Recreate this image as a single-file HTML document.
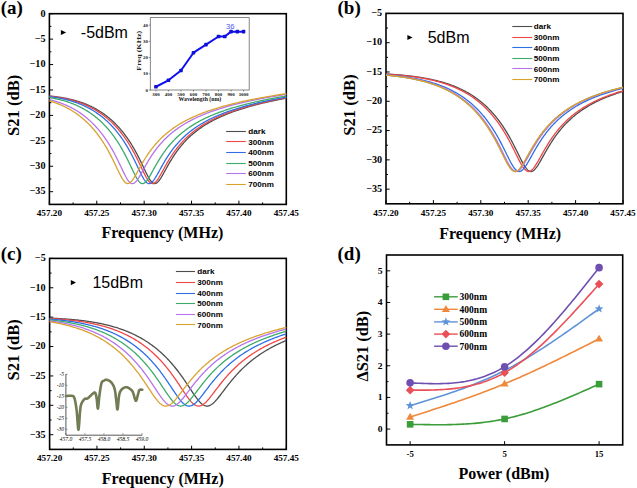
<!DOCTYPE html>
<html><head><meta charset="utf-8"><style>html,body{margin:0;padding:0;background:#fff}svg{display:block}</style></head>
<body><svg width="637" height="488" viewBox="0 0 637 488">
<rect width="637" height="488" fill="#fff"/>
<line x1="49.40" y1="204.40" x2="49.40" y2="200.70" stroke="#000" stroke-width="1"/>
<line x1="96.78" y1="204.40" x2="96.78" y2="200.70" stroke="#000" stroke-width="1"/>
<line x1="144.16" y1="204.40" x2="144.16" y2="200.70" stroke="#000" stroke-width="1"/>
<line x1="191.54" y1="204.40" x2="191.54" y2="200.70" stroke="#000" stroke-width="1"/>
<line x1="238.92" y1="204.40" x2="238.92" y2="200.70" stroke="#000" stroke-width="1"/>
<line x1="286.30" y1="204.40" x2="286.30" y2="200.70" stroke="#000" stroke-width="1"/>
<line x1="73.09" y1="204.40" x2="73.09" y2="202.40" stroke="#000" stroke-width="1"/>
<line x1="120.47" y1="204.40" x2="120.47" y2="202.40" stroke="#000" stroke-width="1"/>
<line x1="167.85" y1="204.40" x2="167.85" y2="202.40" stroke="#000" stroke-width="1"/>
<line x1="215.23" y1="204.40" x2="215.23" y2="202.40" stroke="#000" stroke-width="1"/>
<line x1="262.61" y1="204.40" x2="262.61" y2="202.40" stroke="#000" stroke-width="1"/>
<line x1="49.40" y1="13.70" x2="53.10" y2="13.70" stroke="#000" stroke-width="1"/>
<line x1="49.40" y1="39.13" x2="53.10" y2="39.13" stroke="#000" stroke-width="1"/>
<line x1="49.40" y1="64.55" x2="53.10" y2="64.55" stroke="#000" stroke-width="1"/>
<line x1="49.40" y1="89.98" x2="53.10" y2="89.98" stroke="#000" stroke-width="1"/>
<line x1="49.40" y1="115.41" x2="53.10" y2="115.41" stroke="#000" stroke-width="1"/>
<line x1="49.40" y1="140.83" x2="53.10" y2="140.83" stroke="#000" stroke-width="1"/>
<line x1="49.40" y1="166.26" x2="53.10" y2="166.26" stroke="#000" stroke-width="1"/>
<line x1="49.40" y1="191.69" x2="53.10" y2="191.69" stroke="#000" stroke-width="1"/>
<line x1="49.40" y1="26.41" x2="51.40" y2="26.41" stroke="#000" stroke-width="1"/>
<line x1="49.40" y1="51.84" x2="51.40" y2="51.84" stroke="#000" stroke-width="1"/>
<line x1="49.40" y1="77.27" x2="51.40" y2="77.27" stroke="#000" stroke-width="1"/>
<line x1="49.40" y1="102.69" x2="51.40" y2="102.69" stroke="#000" stroke-width="1"/>
<line x1="49.40" y1="128.12" x2="51.40" y2="128.12" stroke="#000" stroke-width="1"/>
<line x1="49.40" y1="153.55" x2="51.40" y2="153.55" stroke="#000" stroke-width="1"/>
<line x1="49.40" y1="178.97" x2="51.40" y2="178.97" stroke="#000" stroke-width="1"/>
<rect x="49.40" y="13.70" width="236.90" height="190.70" fill="none" stroke="#000" stroke-width="1.6"/>
<text x="49.40" y="216.20" font-family='"Liberation Serif", serif' font-size="9.2" font-weight="bold" text-anchor="middle" fill="#000" >457.20</text>
<text x="96.78" y="216.20" font-family='"Liberation Serif", serif' font-size="9.2" font-weight="bold" text-anchor="middle" fill="#000" >457.25</text>
<text x="144.16" y="216.20" font-family='"Liberation Serif", serif' font-size="9.2" font-weight="bold" text-anchor="middle" fill="#000" >457.30</text>
<text x="191.54" y="216.20" font-family='"Liberation Serif", serif' font-size="9.2" font-weight="bold" text-anchor="middle" fill="#000" >457.35</text>
<text x="238.92" y="216.20" font-family='"Liberation Serif", serif' font-size="9.2" font-weight="bold" text-anchor="middle" fill="#000" >457.40</text>
<text x="286.30" y="216.20" font-family='"Liberation Serif", serif' font-size="9.2" font-weight="bold" text-anchor="middle" fill="#000" >457.45</text>
<text transform="translate(45.50,16.50) scale(1.08,1)" font-family='"Liberation Serif", serif' font-size="9.4" font-weight="bold" text-anchor="end">0</text>
<text transform="translate(45.50,41.93) scale(1.08,1)" font-family='"Liberation Serif", serif' font-size="9.4" font-weight="bold" text-anchor="end">&#8722;5</text>
<text transform="translate(45.50,67.35) scale(1.08,1)" font-family='"Liberation Serif", serif' font-size="9.4" font-weight="bold" text-anchor="end">&#8722;10</text>
<text transform="translate(45.50,92.78) scale(1.08,1)" font-family='"Liberation Serif", serif' font-size="9.4" font-weight="bold" text-anchor="end">&#8722;15</text>
<text transform="translate(45.50,118.21) scale(1.08,1)" font-family='"Liberation Serif", serif' font-size="9.4" font-weight="bold" text-anchor="end">&#8722;20</text>
<text transform="translate(45.50,143.63) scale(1.08,1)" font-family='"Liberation Serif", serif' font-size="9.4" font-weight="bold" text-anchor="end">&#8722;25</text>
<text transform="translate(45.50,169.06) scale(1.08,1)" font-family='"Liberation Serif", serif' font-size="9.4" font-weight="bold" text-anchor="end">&#8722;30</text>
<text transform="translate(45.50,194.49) scale(1.08,1)" font-family='"Liberation Serif", serif' font-size="9.4" font-weight="bold" text-anchor="end">&#8722;35</text>
<path d="M49.40 96.01 L50.19 96.08 L50.98 96.16 L51.78 96.24 L52.57 96.33 L53.36 96.42 L54.15 96.51 L54.95 96.60 L55.74 96.70 L56.53 96.81 L57.32 96.91 L58.12 97.02 L58.91 97.14 L59.70 97.25 L60.49 97.38 L61.28 97.50 L62.08 97.63 L62.87 97.77 L63.66 97.91 L64.45 98.05 L65.25 98.20 L66.04 98.36 L66.83 98.51 L67.62 98.68 L68.42 98.85 L69.21 99.02 L70.00 99.20 L70.79 99.39 L71.58 99.58 L72.38 99.77 L73.17 99.98 L73.96 100.19 L74.75 100.40 L75.55 100.62 L76.34 100.85 L77.13 101.08 L77.92 101.32 L78.72 101.57 L79.51 101.83 L80.30 102.09 L81.09 102.36 L81.88 102.64 L82.68 102.92 L83.47 103.21 L84.26 103.51 L85.05 103.82 L85.85 104.14 L86.64 104.46 L87.43 104.79 L88.22 105.14 L89.02 105.49 L89.81 105.85 L90.60 106.22 L91.39 106.60 L92.18 106.99 L92.98 107.39 L93.77 107.79 L94.56 108.21 L95.35 108.64 L96.15 109.08 L96.94 109.54 L97.73 110.00 L98.52 110.47 L99.32 110.96 L100.11 111.46 L100.90 111.97 L101.69 112.49 L102.48 113.03 L103.28 113.57 L104.07 114.13 L104.86 114.71 L105.65 115.30 L106.45 115.90 L107.24 116.52 L108.03 117.15 L108.82 117.80 L109.62 118.46 L110.41 119.14 L111.20 119.83 L111.99 120.54 L112.78 121.27 L113.58 122.01 L114.37 122.77 L115.16 123.55 L115.95 124.35 L116.75 125.17 L117.54 126.00 L118.33 126.86 L119.12 127.74 L119.92 128.63 L120.71 129.55 L121.50 130.49 L122.29 131.45 L123.08 132.44 L123.88 133.45 L124.67 134.48 L125.46 135.54 L126.25 136.62 L127.05 137.73 L127.84 138.87 L128.63 140.04 L129.42 141.23 L130.22 142.45 L131.01 143.70 L131.80 144.98 L132.59 146.29 L133.38 147.63 L134.18 149.01 L134.97 150.41 L135.76 151.85 L136.55 153.32 L137.35 154.81 L138.14 156.34 L138.93 157.90 L139.72 159.49 L140.52 161.10 L141.31 162.74 L142.10 164.39 L142.89 166.05 L143.68 167.72 L144.48 169.39 L145.27 171.05 L146.06 172.68 L146.85 174.27 L147.65 175.81 L148.44 177.27 L149.23 178.63 L150.02 179.87 L150.82 180.97 L151.61 181.90 L152.40 182.65 L153.19 183.19 L153.98 183.51 L154.78 183.61 L155.57 183.48 L156.36 183.14 L157.15 182.60 L157.95 181.87 L158.74 180.98 L159.53 179.95 L160.32 178.80 L161.12 177.56 L161.91 176.25 L162.70 174.89 L163.49 173.49 L164.28 172.06 L165.08 170.62 L165.87 169.19 L166.66 167.75 L167.45 166.33 L168.25 164.93 L169.04 163.55 L169.83 162.19 L170.62 160.86 L171.42 159.55 L172.21 158.27 L173.00 157.03 L173.79 155.81 L174.58 154.62 L175.38 153.46 L176.17 152.33 L176.96 151.22 L177.75 150.15 L178.55 149.10 L179.34 148.07 L180.13 147.07 L180.92 146.10 L181.72 145.15 L182.51 144.23 L183.30 143.32 L184.09 142.44 L184.88 141.58 L185.68 140.74 L186.47 139.92 L187.26 139.12 L188.05 138.34 L188.85 137.57 L189.64 136.83 L190.43 136.10 L191.22 135.38 L192.02 134.68 L192.81 134.00 L193.60 133.33 L194.39 132.68 L195.18 132.04 L195.98 131.41 L196.77 130.79 L197.56 130.19 L198.35 129.60 L199.15 129.03 L199.94 128.46 L200.73 127.90 L201.52 127.36 L202.32 126.83 L203.11 126.30 L203.90 125.79 L204.69 125.28 L205.48 124.79 L206.28 124.30 L207.07 123.82 L207.86 123.35 L208.65 122.89 L209.45 122.44 L210.24 121.99 L211.03 121.56 L211.82 121.13 L212.62 120.70 L213.41 120.29 L214.20 119.88 L214.99 119.48 L215.78 119.08 L216.58 118.69 L217.37 118.31 L218.16 117.93 L218.95 117.56 L219.75 117.19 L220.54 116.83 L221.33 116.48 L222.12 116.13 L222.92 115.78 L223.71 115.44 L224.50 115.11 L225.29 114.78 L226.08 114.45 L226.88 114.13 L227.67 113.82 L228.46 113.51 L229.25 113.20 L230.05 112.89 L230.84 112.60 L231.63 112.30 L232.42 112.01 L233.22 111.72 L234.01 111.44 L234.80 111.16 L235.59 110.88 L236.38 110.61 L237.18 110.34 L237.97 110.07 L238.76 109.81 L239.55 109.55 L240.35 109.29 L241.14 109.04 L241.93 108.79 L242.72 108.54 L243.52 108.29 L244.31 108.05 L245.10 107.81 L245.89 107.58 L246.68 107.34 L247.48 107.11 L248.27 106.88 L249.06 106.66 L249.85 106.43 L250.65 106.21 L251.44 105.99 L252.23 105.77 L253.02 105.56 L253.82 105.35 L254.61 105.14 L255.40 104.93 L256.19 104.72 L256.98 104.52 L257.78 104.32 L258.57 104.12 L259.36 103.92 L260.15 103.72 L260.95 103.53 L261.74 103.34 L262.53 103.15 L263.32 102.96 L264.12 102.77 L264.91 102.59 L265.70 102.40 L266.49 102.22 L267.28 102.04 L268.08 101.86 L268.87 101.69 L269.66 101.51 L270.45 101.34 L271.25 101.16 L272.04 100.99 L272.83 100.82 L273.62 100.66 L274.42 100.49 L275.21 100.32 L276.00 100.16 L276.79 100.00 L277.58 99.84 L278.38 99.68 L279.17 99.52 L279.96 99.36 L280.75 99.20 L281.55 99.05 L282.34 98.89 L283.13 98.74 L283.92 98.59 L284.72 98.44 L285.51 98.29 L286.30 98.14" fill="none" stroke="#4d4d4d" stroke-width="1.3" stroke-linejoin="round"/>
<path d="M49.40 96.23 L50.19 96.31 L50.98 96.40 L51.78 96.49 L52.57 96.59 L53.36 96.68 L54.15 96.79 L54.95 96.89 L55.74 97.00 L56.53 97.11 L57.32 97.23 L58.12 97.35 L58.91 97.48 L59.70 97.61 L60.49 97.74 L61.28 97.88 L62.08 98.02 L62.87 98.17 L63.66 98.33 L64.45 98.48 L65.25 98.65 L66.04 98.81 L66.83 98.99 L67.62 99.17 L68.42 99.35 L69.21 99.54 L70.00 99.74 L70.79 99.94 L71.58 100.15 L72.38 100.36 L73.17 100.58 L73.96 100.81 L74.75 101.04 L75.55 101.28 L76.34 101.52 L77.13 101.78 L77.92 102.04 L78.72 102.31 L79.51 102.58 L80.30 102.86 L81.09 103.15 L81.88 103.45 L82.68 103.76 L83.47 104.07 L84.26 104.40 L85.05 104.73 L85.85 105.07 L86.64 105.42 L87.43 105.78 L88.22 106.15 L89.02 106.52 L89.81 106.91 L90.60 107.31 L91.39 107.71 L92.18 108.13 L92.98 108.56 L93.77 109.00 L94.56 109.45 L95.35 109.91 L96.15 110.38 L96.94 110.86 L97.73 111.36 L98.52 111.87 L99.32 112.39 L100.11 112.92 L100.90 113.47 L101.69 114.02 L102.48 114.60 L103.28 115.18 L104.07 115.78 L104.86 116.40 L105.65 117.03 L106.45 117.67 L107.24 118.33 L108.03 119.00 L108.82 119.69 L109.62 120.40 L110.41 121.12 L111.20 121.87 L111.99 122.62 L112.78 123.40 L113.58 124.19 L114.37 125.01 L115.16 125.84 L115.95 126.69 L116.75 127.56 L117.54 128.46 L118.33 129.37 L119.12 130.31 L119.92 131.27 L120.71 132.25 L121.50 133.25 L122.29 134.28 L123.08 135.33 L123.88 136.41 L124.67 137.52 L125.46 138.65 L126.25 139.81 L127.05 141.00 L127.84 142.21 L128.63 143.46 L129.42 144.73 L130.22 146.03 L131.01 147.37 L131.80 148.74 L132.59 150.14 L133.38 151.57 L134.18 153.03 L134.97 154.52 L135.76 156.05 L136.55 157.60 L137.35 159.18 L138.14 160.79 L138.93 162.42 L139.72 164.07 L140.52 165.73 L141.31 167.40 L142.10 169.07 L142.89 170.73 L143.68 172.37 L144.48 173.97 L145.27 175.52 L146.06 176.99 L146.85 178.38 L147.65 179.64 L148.44 180.77 L149.23 181.74 L150.02 182.52 L150.82 183.10 L151.61 183.46 L152.40 183.61 L153.19 183.52 L153.98 183.22 L154.78 182.72 L155.57 182.02 L156.36 181.16 L157.15 180.16 L157.95 179.03 L158.74 177.81 L159.53 176.51 L160.32 175.16 L161.12 173.76 L161.91 172.34 L162.70 170.90 L163.49 169.46 L164.28 168.03 L165.08 166.61 L165.87 165.20 L166.66 163.81 L167.45 162.45 L168.25 161.11 L169.04 159.80 L169.83 158.52 L170.62 157.27 L171.42 156.04 L172.21 154.85 L173.00 153.68 L173.79 152.54 L174.58 151.43 L175.38 150.35 L176.17 149.30 L176.96 148.27 L177.75 147.27 L178.55 146.29 L179.34 145.33 L180.13 144.40 L180.92 143.50 L181.72 142.61 L182.51 141.75 L183.30 140.90 L184.09 140.08 L184.88 139.27 L185.68 138.49 L186.47 137.72 L187.26 136.97 L188.05 136.24 L188.85 135.52 L189.64 134.82 L190.43 134.13 L191.22 133.46 L192.02 132.80 L192.81 132.16 L193.60 131.53 L194.39 130.91 L195.18 130.31 L195.98 129.72 L196.77 129.14 L197.56 128.57 L198.35 128.01 L199.15 127.46 L199.94 126.93 L200.73 126.40 L201.52 125.89 L202.32 125.38 L203.11 124.88 L203.90 124.39 L204.69 123.91 L205.48 123.44 L206.28 122.98 L207.07 122.53 L207.86 122.08 L208.65 121.64 L209.45 121.21 L210.24 120.79 L211.03 120.37 L211.82 119.96 L212.62 119.55 L213.41 119.16 L214.20 118.77 L214.99 118.38 L215.78 118.00 L216.58 117.63 L217.37 117.26 L218.16 116.90 L218.95 116.55 L219.75 116.19 L220.54 115.85 L221.33 115.51 L222.12 115.17 L222.92 114.84 L223.71 114.52 L224.50 114.20 L225.29 113.88 L226.08 113.57 L226.88 113.26 L227.67 112.95 L228.46 112.65 L229.25 112.36 L230.05 112.07 L230.84 111.78 L231.63 111.49 L232.42 111.21 L233.22 110.93 L234.01 110.66 L234.80 110.39 L235.59 110.12 L236.38 109.86 L237.18 109.60 L237.97 109.34 L238.76 109.09 L239.55 108.84 L240.35 108.59 L241.14 108.34 L241.93 108.10 L242.72 107.86 L243.52 107.62 L244.31 107.39 L245.10 107.16 L245.89 106.93 L246.68 106.70 L247.48 106.48 L248.27 106.25 L249.06 106.03 L249.85 105.82 L250.65 105.60 L251.44 105.39 L252.23 105.18 L253.02 104.97 L253.82 104.76 L254.61 104.56 L255.40 104.36 L256.19 104.16 L256.98 103.96 L257.78 103.76 L258.57 103.57 L259.36 103.38 L260.15 103.18 L260.95 103.00 L261.74 102.81 L262.53 102.62 L263.32 102.44 L264.12 102.26 L264.91 102.08 L265.70 101.90 L266.49 101.72 L267.28 101.54 L268.08 101.37 L268.87 101.20 L269.66 101.03 L270.45 100.86 L271.25 100.69 L272.04 100.52 L272.83 100.36 L273.62 100.19 L274.42 100.03 L275.21 99.87 L276.00 99.71 L276.79 99.55 L277.58 99.39 L278.38 99.23 L279.17 99.08 L279.96 98.92 L280.75 98.77 L281.55 98.62 L282.34 98.47 L283.13 98.32 L283.92 98.17 L284.72 98.02 L285.51 97.88 L286.30 97.73" fill="none" stroke="#f04646" stroke-width="1.3" stroke-linejoin="round"/>
<path d="M49.40 96.62 L50.19 96.71 L50.98 96.82 L51.78 96.92 L52.57 97.03 L53.36 97.15 L54.15 97.27 L54.95 97.39 L55.74 97.52 L56.53 97.65 L57.32 97.78 L58.12 97.92 L58.91 98.07 L59.70 98.22 L60.49 98.37 L61.28 98.53 L62.08 98.70 L62.87 98.87 L63.66 99.04 L64.45 99.22 L65.25 99.41 L66.04 99.60 L66.83 99.80 L67.62 100.00 L68.42 100.21 L69.21 100.43 L70.00 100.65 L70.79 100.88 L71.58 101.11 L72.38 101.35 L73.17 101.60 L73.96 101.86 L74.75 102.12 L75.55 102.39 L76.34 102.67 L77.13 102.95 L77.92 103.25 L78.72 103.55 L79.51 103.86 L80.30 104.17 L81.09 104.50 L81.88 104.83 L82.68 105.18 L83.47 105.53 L84.26 105.89 L85.05 106.26 L85.85 106.64 L86.64 107.03 L87.43 107.43 L88.22 107.84 L89.02 108.26 L89.81 108.69 L90.60 109.14 L91.39 109.59 L92.18 110.05 L92.98 110.53 L93.77 111.02 L94.56 111.52 L95.35 112.03 L96.15 112.55 L96.94 113.09 L97.73 113.64 L98.52 114.20 L99.32 114.78 L100.11 115.37 L100.90 115.97 L101.69 116.59 L102.48 117.22 L103.28 117.87 L104.07 118.54 L104.86 119.22 L105.65 119.91 L106.45 120.62 L107.24 121.35 L108.03 122.10 L108.82 122.86 L109.62 123.64 L110.41 124.44 L111.20 125.26 L111.99 126.10 L112.78 126.96 L113.58 127.84 L114.37 128.74 L115.16 129.66 L115.95 130.60 L116.75 131.57 L117.54 132.55 L118.33 133.57 L119.12 134.60 L119.92 135.66 L120.71 136.75 L121.50 137.86 L122.29 139.00 L123.08 140.17 L123.88 141.37 L124.67 142.59 L125.46 143.85 L126.25 145.13 L127.05 146.44 L127.84 147.79 L128.63 149.17 L129.42 150.57 L130.22 152.01 L131.01 153.49 L131.80 154.99 L132.59 156.52 L133.38 158.08 L134.18 159.67 L134.97 161.29 L135.76 162.93 L136.55 164.58 L137.35 166.25 L138.14 167.92 L138.93 169.58 L139.72 171.24 L140.52 172.87 L141.31 174.45 L142.10 175.98 L142.89 177.43 L143.68 178.78 L144.48 180.01 L145.27 181.09 L146.06 182.00 L146.85 182.72 L147.65 183.24 L148.44 183.53 L149.23 183.60 L150.02 183.45 L150.82 183.09 L151.61 182.52 L152.40 181.77 L153.19 180.87 L153.98 179.82 L154.78 178.66 L155.57 177.42 L156.36 176.10 L157.15 174.73 L157.95 173.32 L158.74 171.90 L159.53 170.46 L160.32 169.02 L161.12 167.59 L161.91 166.17 L162.70 164.77 L163.49 163.39 L164.28 162.03 L165.08 160.70 L165.87 159.40 L166.66 158.13 L167.45 156.89 L168.25 155.67 L169.04 154.48 L169.83 153.33 L170.62 152.20 L171.42 151.10 L172.21 150.02 L173.00 148.98 L173.79 147.96 L174.58 146.96 L175.38 145.99 L176.17 145.04 L176.96 144.12 L177.75 143.22 L178.55 142.34 L179.34 141.48 L180.13 140.65 L180.92 139.83 L181.72 139.03 L182.51 138.25 L183.30 137.49 L184.09 136.74 L184.88 136.01 L185.68 135.30 L186.47 134.60 L187.26 133.92 L188.05 133.25 L188.85 132.60 L189.64 131.96 L190.43 131.34 L191.22 130.72 L192.02 130.12 L192.81 129.54 L193.60 128.96 L194.39 128.39 L195.18 127.84 L195.98 127.30 L196.77 126.76 L197.56 126.24 L198.35 125.73 L199.15 125.22 L199.94 124.73 L200.73 124.24 L201.52 123.77 L202.32 123.30 L203.11 122.84 L203.90 122.39 L204.69 121.94 L205.48 121.51 L206.28 121.08 L207.07 120.66 L207.86 120.24 L208.65 119.83 L209.45 119.43 L210.24 119.04 L211.03 118.65 L211.82 118.26 L212.62 117.89 L213.41 117.52 L214.20 117.15 L214.99 116.79 L215.78 116.44 L216.58 116.09 L217.37 115.74 L218.16 115.40 L218.95 115.07 L219.75 114.74 L220.54 114.42 L221.33 114.10 L222.12 113.78 L222.92 113.47 L223.71 113.16 L224.50 112.86 L225.29 112.56 L226.08 112.27 L226.88 111.98 L227.67 111.69 L228.46 111.41 L229.25 111.13 L230.05 110.85 L230.84 110.58 L231.63 110.31 L232.42 110.04 L233.22 109.78 L234.01 109.52 L234.80 109.26 L235.59 109.01 L236.38 108.76 L237.18 108.51 L237.97 108.27 L238.76 108.02 L239.55 107.79 L240.35 107.55 L241.14 107.32 L241.93 107.08 L242.72 106.86 L243.52 106.63 L244.31 106.41 L245.10 106.19 L245.89 105.97 L246.68 105.75 L247.48 105.54 L248.27 105.32 L249.06 105.11 L249.85 104.91 L250.65 104.70 L251.44 104.50 L252.23 104.30 L253.02 104.10 L253.82 103.90 L254.61 103.70 L255.40 103.51 L256.19 103.32 L256.98 103.13 L257.78 102.94 L258.57 102.75 L259.36 102.57 L260.15 102.38 L260.95 102.20 L261.74 102.02 L262.53 101.84 L263.32 101.67 L264.12 101.49 L264.91 101.32 L265.70 101.14 L266.49 100.97 L267.28 100.80 L268.08 100.64 L268.87 100.47 L269.66 100.31 L270.45 100.14 L271.25 99.98 L272.04 99.82 L272.83 99.66 L273.62 99.50 L274.42 99.34 L275.21 99.19 L276.00 99.03 L276.79 98.88 L277.58 98.72 L278.38 98.57 L279.17 98.42 L279.96 98.27 L280.75 98.13 L281.55 97.98 L282.34 97.83 L283.13 97.69 L283.92 97.54 L284.72 97.40 L285.51 97.26 L286.30 97.12" fill="none" stroke="#2f6fe6" stroke-width="1.3" stroke-linejoin="round"/>
<path d="M49.40 97.55 L50.19 97.69 L50.98 97.82 L51.78 97.96 L52.57 98.11 L53.36 98.26 L54.15 98.42 L54.95 98.58 L55.74 98.74 L56.53 98.92 L57.32 99.09 L58.12 99.27 L58.91 99.46 L59.70 99.66 L60.49 99.85 L61.28 100.06 L62.08 100.27 L62.87 100.49 L63.66 100.71 L64.45 100.94 L65.25 101.18 L66.04 101.42 L66.83 101.67 L67.62 101.93 L68.42 102.20 L69.21 102.47 L70.00 102.75 L70.79 103.03 L71.58 103.33 L72.38 103.63 L73.17 103.94 L73.96 104.26 L74.75 104.59 L75.55 104.93 L76.34 105.28 L77.13 105.63 L77.92 105.99 L78.72 106.37 L79.51 106.75 L80.30 107.14 L81.09 107.55 L81.88 107.96 L82.68 108.38 L83.47 108.82 L84.26 109.26 L85.05 109.72 L85.85 110.19 L86.64 110.67 L87.43 111.16 L88.22 111.66 L89.02 112.17 L89.81 112.70 L90.60 113.24 L91.39 113.79 L92.18 114.36 L92.98 114.94 L93.77 115.54 L94.56 116.14 L95.35 116.77 L96.15 117.40 L96.94 118.06 L97.73 118.73 L98.52 119.41 L99.32 120.11 L100.11 120.83 L100.90 121.56 L101.69 122.31 L102.48 123.08 L103.28 123.87 L104.07 124.67 L104.86 125.50 L105.65 126.34 L106.45 127.21 L107.24 128.09 L108.03 129.00 L108.82 129.92 L109.62 130.87 L110.41 131.84 L111.20 132.84 L111.99 133.86 L112.78 134.90 L113.58 135.97 L114.37 137.06 L115.16 138.18 L115.95 139.33 L116.75 140.51 L117.54 141.71 L118.33 142.94 L119.12 144.21 L119.92 145.50 L120.71 146.82 L121.50 148.18 L122.29 149.56 L123.08 150.98 L123.88 152.43 L124.67 153.91 L125.46 155.42 L126.25 156.96 L127.05 158.53 L127.84 160.13 L128.63 161.75 L129.42 163.39 L130.22 165.05 L131.01 166.72 L131.80 168.39 L132.59 170.05 L133.38 171.70 L134.18 173.32 L134.97 174.89 L135.76 176.40 L136.55 177.82 L137.35 179.14 L138.14 180.33 L138.93 181.36 L139.72 182.22 L140.52 182.89 L141.31 183.34 L142.10 183.57 L142.89 183.58 L143.68 183.37 L144.48 182.95 L145.27 182.33 L146.06 181.53 L146.85 180.58 L147.65 179.51 L148.44 178.32 L149.23 177.05 L150.02 175.72 L150.82 174.33 L151.61 172.92 L152.40 171.49 L153.19 170.05 L153.98 168.61 L154.78 167.19 L155.57 165.77 L156.36 164.38 L157.15 163.00 L157.95 161.66 L158.74 160.33 L159.53 159.04 L160.32 157.78 L161.12 156.54 L161.91 155.33 L162.70 154.15 L163.49 153.00 L164.28 151.88 L165.08 150.79 L165.87 149.73 L166.66 148.69 L167.45 147.67 L168.25 146.68 L169.04 145.72 L169.83 144.78 L170.62 143.86 L171.42 142.97 L172.21 142.10 L173.00 141.24 L173.79 140.41 L174.58 139.60 L175.38 138.81 L176.17 138.03 L176.96 137.27 L177.75 136.53 L178.55 135.81 L179.34 135.10 L180.13 134.41 L180.92 133.73 L181.72 133.07 L182.51 132.42 L183.30 131.79 L184.09 131.16 L184.88 130.55 L185.68 129.96 L186.47 129.37 L187.26 128.80 L188.05 128.24 L188.85 127.69 L189.64 127.15 L190.43 126.62 L191.22 126.10 L192.02 125.59 L192.81 125.08 L193.60 124.59 L194.39 124.11 L195.18 123.64 L195.98 123.17 L196.77 122.71 L197.56 122.26 L198.35 121.82 L199.15 121.39 L199.94 120.96 L200.73 120.54 L201.52 120.12 L202.32 119.72 L203.11 119.32 L203.90 118.93 L204.69 118.54 L205.48 118.16 L206.28 117.78 L207.07 117.41 L207.86 117.05 L208.65 116.69 L209.45 116.34 L210.24 115.99 L211.03 115.65 L211.82 115.31 L212.62 114.98 L213.41 114.65 L214.20 114.33 L214.99 114.01 L215.78 113.69 L216.58 113.38 L217.37 113.08 L218.16 112.78 L218.95 112.48 L219.75 112.18 L220.54 111.89 L221.33 111.61 L222.12 111.33 L222.92 111.05 L223.71 110.77 L224.50 110.50 L225.29 110.23 L226.08 109.97 L226.88 109.70 L227.67 109.45 L228.46 109.19 L229.25 108.94 L230.05 108.69 L230.84 108.44 L231.63 108.20 L232.42 107.96 L233.22 107.72 L234.01 107.48 L234.80 107.25 L235.59 107.02 L236.38 106.79 L237.18 106.57 L237.97 106.34 L238.76 106.12 L239.55 105.90 L240.35 105.69 L241.14 105.48 L241.93 105.26 L242.72 105.05 L243.52 104.85 L244.31 104.64 L245.10 104.44 L245.89 104.24 L246.68 104.04 L247.48 103.84 L248.27 103.65 L249.06 103.45 L249.85 103.26 L250.65 103.07 L251.44 102.88 L252.23 102.70 L253.02 102.51 L253.82 102.33 L254.61 102.15 L255.40 101.97 L256.19 101.79 L256.98 101.62 L257.78 101.44 L258.57 101.27 L259.36 101.10 L260.15 100.93 L260.95 100.76 L261.74 100.59 L262.53 100.42 L263.32 100.26 L264.12 100.10 L264.91 99.93 L265.70 99.77 L266.49 99.61 L267.28 99.45 L268.08 99.30 L268.87 99.14 L269.66 98.99 L270.45 98.83 L271.25 98.68 L272.04 98.53 L272.83 98.38 L273.62 98.23 L274.42 98.08 L275.21 97.94 L276.00 97.79 L276.79 97.65 L277.58 97.50 L278.38 97.36 L279.17 97.22 L279.96 97.08 L280.75 96.94 L281.55 96.80 L282.34 96.66 L283.13 96.52 L283.92 96.39 L284.72 96.25 L285.51 96.12 L286.30 95.99" fill="none" stroke="#3dab6b" stroke-width="1.3" stroke-linejoin="round"/>
<path d="M49.40 99.60 L50.19 99.80 L50.98 100.01 L51.78 100.21 L52.57 100.43 L53.36 100.65 L54.15 100.88 L54.95 101.12 L55.74 101.36 L56.53 101.61 L57.32 101.86 L58.12 102.13 L58.91 102.40 L59.70 102.67 L60.49 102.96 L61.28 103.25 L62.08 103.55 L62.87 103.86 L63.66 104.18 L64.45 104.51 L65.25 104.84 L66.04 105.18 L66.83 105.54 L67.62 105.90 L68.42 106.27 L69.21 106.65 L70.00 107.04 L70.79 107.44 L71.58 107.85 L72.38 108.27 L73.17 108.70 L73.96 109.14 L74.75 109.60 L75.55 110.06 L76.34 110.54 L77.13 111.03 L77.92 111.53 L78.72 112.04 L79.51 112.56 L80.30 113.10 L81.09 113.65 L81.88 114.21 L82.68 114.79 L83.47 115.38 L84.26 115.98 L85.05 116.60 L85.85 117.24 L86.64 117.88 L87.43 118.55 L88.22 119.23 L89.02 119.92 L89.81 120.64 L90.60 121.37 L91.39 122.11 L92.18 122.88 L92.98 123.66 L93.77 124.46 L94.56 125.28 L95.35 126.12 L96.15 126.98 L96.94 127.86 L97.73 128.76 L98.52 129.68 L99.32 130.62 L100.11 131.59 L100.90 132.57 L101.69 133.59 L102.48 134.62 L103.28 135.69 L104.07 136.77 L104.86 137.89 L105.65 139.03 L106.45 140.19 L107.24 141.39 L108.03 142.62 L108.82 143.87 L109.62 145.15 L110.41 146.47 L111.20 147.82 L111.99 149.19 L112.78 150.60 L113.58 152.04 L114.37 153.52 L115.16 155.02 L115.95 156.55 L116.75 158.12 L117.54 159.71 L118.33 161.32 L119.12 162.96 L119.92 164.61 L120.71 166.28 L121.50 167.95 L122.29 169.62 L123.08 171.27 L123.88 172.90 L124.67 174.48 L125.46 176.01 L126.25 177.46 L127.05 178.81 L127.84 180.03 L128.63 181.11 L129.42 182.02 L130.22 182.73 L131.01 183.24 L131.80 183.54 L132.59 183.60 L133.38 183.45 L134.18 183.08 L134.97 182.51 L135.76 181.76 L136.55 180.85 L137.35 179.80 L138.14 178.64 L138.93 177.39 L139.72 176.07 L140.52 174.70 L141.31 173.30 L142.10 171.87 L142.89 170.43 L143.68 168.99 L144.48 167.56 L145.27 166.14 L146.06 164.74 L146.85 163.36 L147.65 162.01 L148.44 160.68 L149.23 159.38 L150.02 158.10 L150.82 156.86 L151.61 155.65 L152.40 154.46 L153.19 153.30 L153.98 152.18 L154.78 151.08 L155.57 150.00 L156.36 148.96 L157.15 147.94 L157.95 146.94 L158.74 145.97 L159.53 145.03 L160.32 144.10 L161.12 143.20 L161.91 142.32 L162.70 141.47 L163.49 140.63 L164.28 139.81 L165.08 139.01 L165.87 138.23 L166.66 137.47 L167.45 136.73 L168.25 136.00 L169.04 135.29 L169.83 134.59 L170.62 133.91 L171.42 133.24 L172.21 132.59 L173.00 131.95 L173.79 131.33 L174.58 130.71 L175.38 130.11 L176.17 129.52 L176.96 128.95 L177.75 128.38 L178.55 127.83 L179.34 127.29 L180.13 126.75 L180.92 126.23 L181.72 125.72 L182.51 125.21 L183.30 124.72 L184.09 124.24 L184.88 123.76 L185.68 123.29 L186.47 122.83 L187.26 122.38 L188.05 121.94 L188.85 121.50 L189.64 121.07 L190.43 120.65 L191.22 120.23 L192.02 119.82 L192.81 119.42 L193.60 119.03 L194.39 118.64 L195.18 118.26 L195.98 117.88 L196.77 117.51 L197.56 117.14 L198.35 116.78 L199.15 116.43 L199.94 116.08 L200.73 115.74 L201.52 115.40 L202.32 115.06 L203.11 114.74 L203.90 114.41 L204.69 114.09 L205.48 113.78 L206.28 113.46 L207.07 113.16 L207.86 112.85 L208.65 112.56 L209.45 112.26 L210.24 111.97 L211.03 111.68 L211.82 111.40 L212.62 111.12 L213.41 110.84 L214.20 110.57 L214.99 110.30 L215.78 110.04 L216.58 109.77 L217.37 109.51 L218.16 109.26 L218.95 109.00 L219.75 108.75 L220.54 108.51 L221.33 108.26 L222.12 108.02 L222.92 107.78 L223.71 107.54 L224.50 107.31 L225.29 107.08 L226.08 106.85 L226.88 106.63 L227.67 106.40 L228.46 106.18 L229.25 105.96 L230.05 105.75 L230.84 105.53 L231.63 105.32 L232.42 105.11 L233.22 104.90 L234.01 104.70 L234.80 104.49 L235.59 104.29 L236.38 104.09 L237.18 103.89 L237.97 103.70 L238.76 103.50 L239.55 103.31 L240.35 103.12 L241.14 102.93 L241.93 102.75 L242.72 102.56 L243.52 102.38 L244.31 102.20 L245.10 102.02 L245.89 101.84 L246.68 101.66 L247.48 101.49 L248.27 101.31 L249.06 101.14 L249.85 100.97 L250.65 100.80 L251.44 100.63 L252.23 100.47 L253.02 100.30 L253.82 100.14 L254.61 99.98 L255.40 99.81 L256.19 99.65 L256.98 99.50 L257.78 99.34 L258.57 99.18 L259.36 99.03 L260.15 98.87 L260.95 98.72 L261.74 98.57 L262.53 98.42 L263.32 98.27 L264.12 98.12 L264.91 97.98 L265.70 97.83 L266.49 97.68 L267.28 97.54 L268.08 97.40 L268.87 97.26 L269.66 97.11 L270.45 96.97 L271.25 96.84 L272.04 96.70 L272.83 96.56 L273.62 96.42 L274.42 96.29 L275.21 96.15 L276.00 96.02 L276.79 95.89 L277.58 95.76 L278.38 95.63 L279.17 95.50 L279.96 95.37 L280.75 95.24 L281.55 95.11 L282.34 94.98 L283.13 94.86 L283.92 94.73 L284.72 94.61 L285.51 94.48 L286.30 94.36" fill="none" stroke="#b474ec" stroke-width="1.3" stroke-linejoin="round"/>
<path d="M49.40 100.86 L50.19 101.09 L50.98 101.33 L51.78 101.58 L52.57 101.83 L53.36 102.10 L54.15 102.36 L54.95 102.64 L55.74 102.93 L56.53 103.22 L57.32 103.52 L58.12 103.83 L58.91 104.14 L59.70 104.47 L60.49 104.80 L61.28 105.14 L62.08 105.50 L62.87 105.86 L63.66 106.23 L64.45 106.61 L65.25 107.00 L66.04 107.39 L66.83 107.80 L67.62 108.22 L68.42 108.65 L69.21 109.09 L70.00 109.55 L70.79 110.01 L71.58 110.48 L72.38 110.97 L73.17 111.47 L73.96 111.98 L74.75 112.50 L75.55 113.04 L76.34 113.59 L77.13 114.15 L77.92 114.72 L78.72 115.31 L79.51 115.91 L80.30 116.53 L81.09 117.16 L81.88 117.81 L82.68 118.47 L83.47 119.15 L84.26 119.85 L85.05 120.56 L85.85 121.28 L86.64 122.03 L87.43 122.79 L88.22 123.57 L89.02 124.37 L89.81 125.19 L90.60 126.02 L91.39 126.88 L92.18 127.76 L92.98 128.65 L93.77 129.57 L94.56 130.51 L95.35 131.48 L96.15 132.46 L96.94 133.47 L97.73 134.51 L98.52 135.57 L99.32 136.65 L100.11 137.76 L100.90 138.90 L101.69 140.06 L102.48 141.26 L103.28 142.48 L104.07 143.73 L104.86 145.01 L105.65 146.32 L106.45 147.66 L107.24 149.04 L108.03 150.44 L108.82 151.88 L109.62 153.35 L110.41 154.85 L111.20 156.38 L111.99 157.94 L112.78 159.53 L113.58 161.14 L114.37 162.77 L115.16 164.43 L115.95 166.09 L116.75 167.76 L117.54 169.43 L118.33 171.09 L119.12 172.72 L119.92 174.31 L120.71 175.84 L121.50 177.30 L122.29 178.66 L123.08 179.90 L123.88 181.00 L124.67 181.92 L125.46 182.66 L126.25 183.20 L127.05 183.51 L127.84 183.61 L128.63 183.48 L129.42 183.13 L130.22 182.58 L131.01 181.85 L131.80 180.96 L132.59 179.92 L133.38 178.78 L134.18 177.54 L134.97 176.22 L135.76 174.86 L136.55 173.45 L137.35 172.03 L138.14 170.59 L138.93 169.15 L139.72 167.72 L140.52 166.30 L141.31 164.90 L142.10 163.52 L142.89 162.16 L143.68 160.83 L144.48 159.52 L145.27 158.25 L146.06 157.00 L146.85 155.78 L147.65 154.59 L148.44 153.43 L149.23 152.30 L150.02 151.20 L150.82 150.12 L151.61 149.07 L152.40 148.05 L153.19 147.05 L153.98 146.08 L154.78 145.13 L155.57 144.21 L156.36 143.30 L157.15 142.42 L157.95 141.56 L158.74 140.72 L159.53 139.90 L160.32 139.10 L161.12 138.32 L161.91 137.56 L162.70 136.81 L163.49 136.08 L164.28 135.37 L165.08 134.67 L165.87 133.98 L166.66 133.32 L167.45 132.66 L168.25 132.02 L169.04 131.39 L169.83 130.78 L170.62 130.18 L171.42 129.59 L172.21 129.01 L173.00 128.45 L173.79 127.89 L174.58 127.35 L175.38 126.81 L176.17 126.29 L176.96 125.78 L177.75 125.27 L178.55 124.78 L179.34 124.29 L180.13 123.81 L180.92 123.34 L181.72 122.88 L182.51 122.43 L183.30 121.98 L184.09 121.55 L184.88 121.12 L185.68 120.69 L186.47 120.28 L187.26 119.87 L188.05 119.47 L188.85 119.07 L189.64 118.68 L190.43 118.30 L191.22 117.92 L192.02 117.55 L192.81 117.18 L193.60 116.82 L194.39 116.47 L195.18 116.12 L195.98 115.78 L196.77 115.44 L197.56 115.10 L198.35 114.77 L199.15 114.45 L199.94 114.13 L200.73 113.81 L201.52 113.50 L202.32 113.19 L203.11 112.89 L203.90 112.59 L204.69 112.29 L205.48 112.00 L206.28 111.71 L207.07 111.43 L207.86 111.15 L208.65 110.87 L209.45 110.60 L210.24 110.33 L211.03 110.07 L211.82 109.80 L212.62 109.54 L213.41 109.29 L214.20 109.03 L214.99 108.78 L215.78 108.53 L216.58 108.29 L217.37 108.05 L218.16 107.81 L218.95 107.57 L219.75 107.34 L220.54 107.11 L221.33 106.88 L222.12 106.65 L222.92 106.43 L223.71 106.21 L224.50 105.99 L225.29 105.77 L226.08 105.56 L226.88 105.34 L227.67 105.13 L228.46 104.92 L229.25 104.72 L230.05 104.52 L230.84 104.31 L231.63 104.11 L232.42 103.92 L233.22 103.72 L234.01 103.53 L234.80 103.33 L235.59 103.14 L236.38 102.95 L237.18 102.77 L237.97 102.58 L238.76 102.40 L239.55 102.22 L240.35 102.04 L241.14 101.86 L241.93 101.68 L242.72 101.51 L243.52 101.33 L244.31 101.16 L245.10 100.99 L245.89 100.82 L246.68 100.65 L247.48 100.49 L248.27 100.32 L249.06 100.16 L249.85 99.99 L250.65 99.83 L251.44 99.67 L252.23 99.51 L253.02 99.36 L253.82 99.20 L254.61 99.04 L255.40 98.89 L256.19 98.74 L256.98 98.59 L257.78 98.44 L258.57 98.29 L259.36 98.14 L260.15 97.99 L260.95 97.85 L261.74 97.70 L262.53 97.56 L263.32 97.41 L264.12 97.27 L264.91 97.13 L265.70 96.99 L266.49 96.85 L267.28 96.71 L268.08 96.58 L268.87 96.44 L269.66 96.30 L270.45 96.17 L271.25 96.04 L272.04 95.90 L272.83 95.77 L273.62 95.64 L274.42 95.51 L275.21 95.38 L276.00 95.25 L276.79 95.12 L277.58 95.00 L278.38 94.87 L279.17 94.74 L279.96 94.62 L280.75 94.50 L281.55 94.37 L282.34 94.25 L283.13 94.13 L283.92 94.01 L284.72 93.89 L285.51 93.77 L286.30 93.65" fill="none" stroke="#d9a22e" stroke-width="1.3" stroke-linejoin="round"/>
<line x1="386.00" y1="203.80" x2="386.00" y2="200.10" stroke="#000" stroke-width="1"/>
<line x1="433.40" y1="203.80" x2="433.40" y2="200.10" stroke="#000" stroke-width="1"/>
<line x1="480.80" y1="203.80" x2="480.80" y2="200.10" stroke="#000" stroke-width="1"/>
<line x1="528.20" y1="203.80" x2="528.20" y2="200.10" stroke="#000" stroke-width="1"/>
<line x1="575.60" y1="203.80" x2="575.60" y2="200.10" stroke="#000" stroke-width="1"/>
<line x1="623.00" y1="203.80" x2="623.00" y2="200.10" stroke="#000" stroke-width="1"/>
<line x1="409.70" y1="203.80" x2="409.70" y2="201.80" stroke="#000" stroke-width="1"/>
<line x1="457.10" y1="203.80" x2="457.10" y2="201.80" stroke="#000" stroke-width="1"/>
<line x1="504.50" y1="203.80" x2="504.50" y2="201.80" stroke="#000" stroke-width="1"/>
<line x1="551.90" y1="203.80" x2="551.90" y2="201.80" stroke="#000" stroke-width="1"/>
<line x1="599.30" y1="203.80" x2="599.30" y2="201.80" stroke="#000" stroke-width="1"/>
<line x1="386.00" y1="13.40" x2="389.70" y2="13.40" stroke="#000" stroke-width="1"/>
<line x1="386.00" y1="42.69" x2="389.70" y2="42.69" stroke="#000" stroke-width="1"/>
<line x1="386.00" y1="71.98" x2="389.70" y2="71.98" stroke="#000" stroke-width="1"/>
<line x1="386.00" y1="101.28" x2="389.70" y2="101.28" stroke="#000" stroke-width="1"/>
<line x1="386.00" y1="130.57" x2="389.70" y2="130.57" stroke="#000" stroke-width="1"/>
<line x1="386.00" y1="159.86" x2="389.70" y2="159.86" stroke="#000" stroke-width="1"/>
<line x1="386.00" y1="189.15" x2="389.70" y2="189.15" stroke="#000" stroke-width="1"/>
<line x1="386.00" y1="28.05" x2="388.00" y2="28.05" stroke="#000" stroke-width="1"/>
<line x1="386.00" y1="57.34" x2="388.00" y2="57.34" stroke="#000" stroke-width="1"/>
<line x1="386.00" y1="86.63" x2="388.00" y2="86.63" stroke="#000" stroke-width="1"/>
<line x1="386.00" y1="115.92" x2="388.00" y2="115.92" stroke="#000" stroke-width="1"/>
<line x1="386.00" y1="145.22" x2="388.00" y2="145.22" stroke="#000" stroke-width="1"/>
<line x1="386.00" y1="174.51" x2="388.00" y2="174.51" stroke="#000" stroke-width="1"/>
<rect x="386.00" y="13.40" width="237.00" height="190.40" fill="none" stroke="#000" stroke-width="1.6"/>
<text x="386.00" y="215.60" font-family='"Liberation Serif", serif' font-size="9.2" font-weight="bold" text-anchor="middle" fill="#000" >457.20</text>
<text x="433.40" y="215.60" font-family='"Liberation Serif", serif' font-size="9.2" font-weight="bold" text-anchor="middle" fill="#000" >457.25</text>
<text x="480.80" y="215.60" font-family='"Liberation Serif", serif' font-size="9.2" font-weight="bold" text-anchor="middle" fill="#000" >457.30</text>
<text x="528.20" y="215.60" font-family='"Liberation Serif", serif' font-size="9.2" font-weight="bold" text-anchor="middle" fill="#000" >457.35</text>
<text x="575.60" y="215.60" font-family='"Liberation Serif", serif' font-size="9.2" font-weight="bold" text-anchor="middle" fill="#000" >457.40</text>
<text x="623.00" y="215.60" font-family='"Liberation Serif", serif' font-size="9.2" font-weight="bold" text-anchor="middle" fill="#000" >457.45</text>
<text transform="translate(382.10,16.20) scale(1.08,1)" font-family='"Liberation Serif", serif' font-size="9.4" font-weight="bold" text-anchor="end">&#8722;5</text>
<text transform="translate(382.10,45.49) scale(1.08,1)" font-family='"Liberation Serif", serif' font-size="9.4" font-weight="bold" text-anchor="end">&#8722;10</text>
<text transform="translate(382.10,74.78) scale(1.08,1)" font-family='"Liberation Serif", serif' font-size="9.4" font-weight="bold" text-anchor="end">&#8722;15</text>
<text transform="translate(382.10,104.08) scale(1.08,1)" font-family='"Liberation Serif", serif' font-size="9.4" font-weight="bold" text-anchor="end">&#8722;20</text>
<text transform="translate(382.10,133.37) scale(1.08,1)" font-family='"Liberation Serif", serif' font-size="9.4" font-weight="bold" text-anchor="end">&#8722;25</text>
<text transform="translate(382.10,162.66) scale(1.08,1)" font-family='"Liberation Serif", serif' font-size="9.4" font-weight="bold" text-anchor="end">&#8722;30</text>
<text transform="translate(382.10,191.95) scale(1.08,1)" font-family='"Liberation Serif", serif' font-size="9.4" font-weight="bold" text-anchor="end">&#8722;35</text>
<path d="M386.00 73.99 L386.79 74.03 L387.59 74.08 L388.38 74.13 L389.17 74.18 L389.96 74.23 L390.76 74.28 L391.55 74.33 L392.34 74.39 L393.13 74.44 L393.93 74.50 L394.72 74.56 L395.51 74.62 L396.30 74.68 L397.10 74.74 L397.89 74.81 L398.68 74.88 L399.47 74.94 L400.27 75.01 L401.06 75.08 L401.85 75.16 L402.65 75.23 L403.44 75.31 L404.23 75.39 L405.02 75.47 L405.82 75.55 L406.61 75.63 L407.40 75.72 L408.19 75.80 L408.99 75.89 L409.78 75.99 L410.57 76.08 L411.36 76.18 L412.16 76.27 L412.95 76.37 L413.74 76.48 L414.54 76.58 L415.33 76.69 L416.12 76.80 L416.91 76.91 L417.71 77.03 L418.50 77.14 L419.29 77.26 L420.08 77.39 L420.88 77.51 L421.67 77.64 L422.46 77.77 L423.25 77.91 L424.05 78.04 L424.84 78.18 L425.63 78.33 L426.42 78.47 L427.22 78.62 L428.01 78.77 L428.80 78.93 L429.60 79.09 L430.39 79.25 L431.18 79.42 L431.97 79.59 L432.77 79.77 L433.56 79.94 L434.35 80.13 L435.14 80.31 L435.94 80.50 L436.73 80.70 L437.52 80.90 L438.31 81.10 L439.11 81.31 L439.90 81.52 L440.69 81.73 L441.48 81.96 L442.28 82.18 L443.07 82.41 L443.86 82.65 L444.66 82.89 L445.45 83.13 L446.24 83.39 L447.03 83.64 L447.83 83.91 L448.62 84.17 L449.41 84.45 L450.20 84.73 L451.00 85.01 L451.79 85.31 L452.58 85.60 L453.37 85.91 L454.17 86.22 L454.96 86.54 L455.75 86.86 L456.55 87.20 L457.34 87.53 L458.13 87.88 L458.92 88.23 L459.72 88.60 L460.51 88.97 L461.30 89.34 L462.09 89.73 L462.89 90.12 L463.68 90.52 L464.47 90.93 L465.26 91.35 L466.06 91.78 L466.85 92.22 L467.64 92.67 L468.43 93.12 L469.23 93.59 L470.02 94.06 L470.81 94.55 L471.61 95.05 L472.40 95.56 L473.19 96.07 L473.98 96.60 L474.78 97.14 L475.57 97.70 L476.36 98.26 L477.15 98.84 L477.95 99.43 L478.74 100.03 L479.53 100.64 L480.32 101.27 L481.12 101.91 L481.91 102.57 L482.70 103.24 L483.49 103.92 L484.29 104.62 L485.08 105.34 L485.87 106.07 L486.67 106.81 L487.46 107.58 L488.25 108.36 L489.04 109.15 L489.84 109.96 L490.63 110.80 L491.42 111.65 L492.21 112.51 L493.01 113.40 L493.80 114.31 L494.59 115.24 L495.38 116.18 L496.18 117.15 L496.97 118.14 L497.76 119.16 L498.56 120.19 L499.35 121.25 L500.14 122.33 L500.93 123.44 L501.73 124.57 L502.52 125.73 L503.31 126.91 L504.10 128.12 L504.90 129.35 L505.69 130.61 L506.48 131.90 L507.27 133.21 L508.07 134.56 L508.86 135.93 L509.65 137.33 L510.44 138.75 L511.24 140.21 L512.03 141.68 L512.82 143.19 L513.62 144.72 L514.41 146.27 L515.20 147.84 L515.99 149.42 L516.79 151.02 L517.58 152.63 L518.37 154.24 L519.16 155.85 L519.96 157.45 L520.75 159.03 L521.54 160.58 L522.33 162.08 L523.13 163.53 L523.92 164.91 L524.71 166.20 L525.51 167.38 L526.30 168.45 L527.09 169.38 L527.88 170.16 L528.68 170.76 L529.47 171.19 L530.26 171.44 L531.05 171.50 L531.85 171.37 L532.64 171.05 L533.43 170.57 L534.22 169.92 L535.02 169.13 L535.81 168.20 L536.60 167.16 L537.39 166.03 L538.19 164.81 L538.98 163.53 L539.77 162.21 L540.57 160.84 L541.36 159.44 L542.15 158.03 L542.94 156.61 L543.74 155.19 L544.53 153.77 L545.32 152.37 L546.11 150.97 L546.91 149.60 L547.70 148.24 L548.49 146.90 L549.28 145.59 L550.08 144.30 L550.87 143.03 L551.66 141.79 L552.45 140.58 L553.25 139.39 L554.04 138.23 L554.83 137.09 L555.63 135.97 L556.42 134.89 L557.21 133.82 L558.00 132.78 L558.80 131.76 L559.59 130.77 L560.38 129.80 L561.17 128.85 L561.97 127.92 L562.76 127.01 L563.55 126.13 L564.34 125.26 L565.14 124.41 L565.93 123.58 L566.72 122.77 L567.52 121.97 L568.31 121.20 L569.10 120.44 L569.89 119.69 L570.69 118.96 L571.48 118.25 L572.27 117.55 L573.06 116.87 L573.86 116.20 L574.65 115.54 L575.44 114.90 L576.23 114.27 L577.03 113.65 L577.82 113.05 L578.61 112.46 L579.40 111.88 L580.20 111.30 L580.99 110.75 L581.78 110.20 L582.58 109.66 L583.37 109.13 L584.16 108.61 L584.95 108.10 L585.75 107.60 L586.54 107.11 L587.33 106.63 L588.12 106.16 L588.92 105.70 L589.71 105.24 L590.50 104.79 L591.29 104.35 L592.09 103.92 L592.88 103.50 L593.67 103.08 L594.46 102.67 L595.26 102.26 L596.05 101.87 L596.84 101.48 L597.64 101.09 L598.43 100.72 L599.22 100.34 L600.01 99.98 L600.81 99.62 L601.60 99.27 L602.39 98.92 L603.18 98.58 L603.98 98.24 L604.77 97.91 L605.56 97.58 L606.35 97.26 L607.15 96.94 L607.94 96.63 L608.73 96.32 L609.53 96.02 L610.32 95.72 L611.11 95.43 L611.90 95.14 L612.70 94.85 L613.49 94.57 L614.28 94.29 L615.07 94.02 L615.87 93.75 L616.66 93.48 L617.45 93.22 L618.24 92.96 L619.04 92.71 L619.83 92.46 L620.62 92.21 L621.41 91.97 L622.21 91.73 L623.00 91.49" fill="none" stroke="#4d4d4d" stroke-width="1.3" stroke-linejoin="round"/>
<path d="M386.00 74.12 L386.79 74.17 L387.59 74.22 L388.38 74.27 L389.17 74.33 L389.96 74.38 L390.76 74.44 L391.55 74.49 L392.34 74.55 L393.13 74.61 L393.93 74.67 L394.72 74.74 L395.51 74.80 L396.30 74.87 L397.10 74.94 L397.89 75.00 L398.68 75.08 L399.47 75.15 L400.27 75.22 L401.06 75.30 L401.85 75.38 L402.65 75.46 L403.44 75.54 L404.23 75.62 L405.02 75.71 L405.82 75.79 L406.61 75.88 L407.40 75.97 L408.19 76.07 L408.99 76.16 L409.78 76.26 L410.57 76.36 L411.36 76.46 L412.16 76.57 L412.95 76.68 L413.74 76.79 L414.54 76.90 L415.33 77.01 L416.12 77.13 L416.91 77.25 L417.71 77.37 L418.50 77.50 L419.29 77.62 L420.08 77.76 L420.88 77.89 L421.67 78.03 L422.46 78.17 L423.25 78.31 L424.05 78.45 L424.84 78.60 L425.63 78.76 L426.42 78.91 L427.22 79.07 L428.01 79.23 L428.80 79.40 L429.60 79.57 L430.39 79.75 L431.18 79.92 L431.97 80.10 L432.77 80.29 L433.56 80.48 L434.35 80.67 L435.14 80.87 L435.94 81.07 L436.73 81.28 L437.52 81.49 L438.31 81.71 L439.11 81.93 L439.90 82.15 L440.69 82.38 L441.48 82.62 L442.28 82.86 L443.07 83.11 L443.86 83.36 L444.66 83.61 L445.45 83.87 L446.24 84.14 L447.03 84.42 L447.83 84.69 L448.62 84.98 L449.41 85.27 L450.20 85.57 L451.00 85.87 L451.79 86.18 L452.58 86.50 L453.37 86.82 L454.17 87.16 L454.96 87.49 L455.75 87.84 L456.55 88.19 L457.34 88.55 L458.13 88.92 L458.92 89.30 L459.72 89.68 L460.51 90.07 L461.30 90.47 L462.09 90.88 L462.89 91.30 L463.68 91.73 L464.47 92.17 L465.26 92.61 L466.06 93.07 L466.85 93.53 L467.64 94.01 L468.43 94.49 L469.23 94.99 L470.02 95.50 L470.81 96.01 L471.61 96.54 L472.40 97.08 L473.19 97.63 L473.98 98.19 L474.78 98.77 L475.57 99.36 L476.36 99.96 L477.15 100.57 L477.95 101.20 L478.74 101.84 L479.53 102.49 L480.32 103.16 L481.12 103.84 L481.91 104.54 L482.70 105.25 L483.49 105.98 L484.29 106.73 L485.08 107.49 L485.87 108.26 L486.67 109.06 L487.46 109.87 L488.25 110.70 L489.04 111.54 L489.84 112.41 L490.63 113.30 L491.42 114.20 L492.21 115.13 L493.01 116.07 L493.80 117.04 L494.59 118.03 L495.38 119.04 L496.18 120.07 L496.97 121.12 L497.76 122.20 L498.56 123.31 L499.35 124.44 L500.14 125.59 L500.93 126.77 L501.73 127.97 L502.52 129.20 L503.31 130.46 L504.10 131.75 L504.90 133.06 L505.69 134.40 L506.48 135.77 L507.27 137.16 L508.07 138.58 L508.86 140.03 L509.65 141.51 L510.44 143.01 L511.24 144.54 L512.03 146.08 L512.82 147.65 L513.62 149.24 L514.41 150.83 L515.20 152.44 L515.99 154.05 L516.79 155.66 L517.58 157.26 L518.37 158.84 L519.16 160.39 L519.96 161.91 L520.75 163.36 L521.54 164.75 L522.33 166.05 L523.13 167.25 L523.92 168.33 L524.71 169.28 L525.51 170.07 L526.30 170.70 L527.09 171.15 L527.88 171.42 L528.68 171.50 L529.47 171.39 L530.26 171.10 L531.05 170.63 L531.85 170.00 L532.64 169.23 L533.43 168.32 L534.22 167.29 L535.02 166.17 L535.81 164.96 L536.60 163.69 L537.39 162.36 L538.19 161.00 L538.98 159.61 L539.77 158.20 L540.57 156.78 L541.36 155.36 L542.15 153.94 L542.94 152.53 L543.74 151.14 L544.53 149.76 L545.32 148.40 L546.11 147.06 L546.91 145.74 L547.70 144.45 L548.49 143.18 L549.28 141.94 L550.08 140.72 L550.87 139.53 L551.66 138.36 L552.45 137.22 L553.25 136.10 L554.04 135.01 L554.83 133.95 L555.63 132.90 L556.42 131.88 L557.21 130.89 L558.00 129.91 L558.80 128.96 L559.59 128.03 L560.38 127.12 L561.17 126.23 L561.97 125.36 L562.76 124.51 L563.55 123.68 L564.34 122.86 L565.14 122.07 L565.93 121.29 L566.72 120.53 L567.52 119.78 L568.31 119.05 L569.10 118.34 L569.89 117.64 L570.69 116.95 L571.48 116.28 L572.27 115.62 L573.06 114.98 L573.86 114.35 L574.65 113.73 L575.44 113.12 L576.23 112.53 L577.03 111.94 L577.82 111.37 L578.61 110.81 L579.40 110.26 L580.20 109.72 L580.99 109.19 L581.78 108.67 L582.58 108.16 L583.37 107.66 L584.16 107.17 L584.95 106.69 L585.75 106.22 L586.54 105.75 L587.33 105.29 L588.12 104.85 L588.92 104.40 L589.71 103.97 L590.50 103.55 L591.29 103.13 L592.09 102.72 L592.88 102.31 L593.67 101.91 L594.46 101.52 L595.26 101.14 L596.05 100.76 L596.84 100.39 L597.64 100.02 L598.43 99.66 L599.22 99.31 L600.01 98.96 L600.81 98.62 L601.60 98.28 L602.39 97.95 L603.18 97.62 L603.98 97.30 L604.77 96.98 L605.56 96.67 L606.35 96.36 L607.15 96.05 L607.94 95.76 L608.73 95.46 L609.53 95.17 L610.32 94.88 L611.11 94.60 L611.90 94.33 L612.70 94.05 L613.49 93.78 L614.28 93.52 L615.07 93.25 L615.87 92.99 L616.66 92.74 L617.45 92.49 L618.24 92.24 L619.04 91.99 L619.83 91.75 L620.62 91.52 L621.41 91.28 L622.21 91.05 L623.00 90.82" fill="none" stroke="#f04646" stroke-width="1.3" stroke-linejoin="round"/>
<path d="M386.00 74.80 L386.79 74.86 L387.59 74.93 L388.38 75.00 L389.17 75.07 L389.96 75.14 L390.76 75.22 L391.55 75.29 L392.34 75.37 L393.13 75.45 L393.93 75.53 L394.72 75.61 L395.51 75.70 L396.30 75.79 L397.10 75.88 L397.89 75.97 L398.68 76.06 L399.47 76.16 L400.27 76.25 L401.06 76.35 L401.85 76.46 L402.65 76.56 L403.44 76.67 L404.23 76.78 L405.02 76.89 L405.82 77.00 L406.61 77.12 L407.40 77.24 L408.19 77.36 L408.99 77.49 L409.78 77.61 L410.57 77.75 L411.36 77.88 L412.16 78.02 L412.95 78.15 L413.74 78.30 L414.54 78.44 L415.33 78.59 L416.12 78.74 L416.91 78.90 L417.71 79.06 L418.50 79.22 L419.29 79.39 L420.08 79.56 L420.88 79.73 L421.67 79.91 L422.46 80.09 L423.25 80.28 L424.05 80.47 L424.84 80.66 L425.63 80.86 L426.42 81.06 L427.22 81.26 L428.01 81.48 L428.80 81.69 L429.60 81.91 L430.39 82.14 L431.18 82.37 L431.97 82.60 L432.77 82.84 L433.56 83.09 L434.35 83.34 L435.14 83.59 L435.94 83.85 L436.73 84.12 L437.52 84.39 L438.31 84.67 L439.11 84.96 L439.90 85.25 L440.69 85.55 L441.48 85.85 L442.28 86.16 L443.07 86.48 L443.86 86.80 L444.66 87.13 L445.45 87.47 L446.24 87.81 L447.03 88.16 L447.83 88.52 L448.62 88.89 L449.41 89.27 L450.20 89.65 L451.00 90.04 L451.79 90.44 L452.58 90.85 L453.37 91.27 L454.17 91.70 L454.96 92.13 L455.75 92.58 L456.55 93.03 L457.34 93.50 L458.13 93.97 L458.92 94.45 L459.72 94.95 L460.51 95.46 L461.30 95.97 L462.09 96.50 L462.89 97.04 L463.68 97.59 L464.47 98.15 L465.26 98.72 L466.06 99.31 L466.85 99.91 L467.64 100.52 L468.43 101.15 L469.23 101.79 L470.02 102.44 L470.81 103.11 L471.61 103.79 L472.40 104.49 L473.19 105.20 L473.98 105.92 L474.78 106.67 L475.57 107.43 L476.36 108.20 L477.15 108.99 L477.95 109.80 L478.74 110.63 L479.53 111.48 L480.32 112.34 L481.12 113.23 L481.91 114.13 L482.70 115.05 L483.49 116.00 L484.29 116.96 L485.08 117.95 L485.87 118.96 L486.67 119.99 L487.46 121.04 L488.25 122.12 L489.04 123.22 L489.84 124.35 L490.63 125.50 L491.42 126.67 L492.21 127.88 L493.01 129.11 L493.80 130.36 L494.59 131.64 L495.38 132.95 L496.18 134.29 L496.97 135.66 L497.76 137.05 L498.56 138.47 L499.35 139.92 L500.14 141.39 L500.93 142.89 L501.73 144.42 L502.52 145.96 L503.31 147.53 L504.10 149.11 L504.90 150.71 L505.69 152.32 L506.48 153.93 L507.27 155.54 L508.07 157.14 L508.86 158.72 L509.65 160.28 L510.44 161.79 L511.24 163.25 L512.03 164.64 L512.82 165.95 L513.62 167.16 L514.41 168.25 L515.20 169.21 L515.99 170.02 L516.79 170.66 L517.58 171.12 L518.37 171.41 L519.16 171.50 L519.96 171.41 L520.75 171.13 L521.54 170.68 L522.33 170.06 L523.13 169.29 L523.92 168.39 L524.71 167.38 L525.51 166.26 L526.30 165.06 L527.09 163.79 L527.88 162.47 L528.68 161.11 L529.47 159.72 L530.26 158.31 L531.05 156.89 L531.85 155.47 L532.64 154.05 L533.43 152.64 L534.22 151.25 L535.02 149.87 L535.81 148.50 L536.60 147.16 L537.39 145.84 L538.19 144.55 L538.98 143.28 L539.77 142.03 L540.57 140.81 L541.36 139.62 L542.15 138.45 L542.94 137.31 L543.74 136.19 L544.53 135.10 L545.32 134.03 L546.11 132.98 L546.91 131.96 L547.70 130.96 L548.49 129.99 L549.28 129.03 L550.08 128.10 L550.87 127.19 L551.66 126.30 L552.45 125.43 L553.25 124.57 L554.04 123.74 L554.83 122.93 L555.63 122.13 L556.42 121.35 L557.21 120.58 L558.00 119.84 L558.80 119.11 L559.59 118.39 L560.38 117.69 L561.17 117.00 L561.97 116.33 L562.76 115.67 L563.55 115.03 L564.34 114.39 L565.14 113.77 L565.93 113.17 L566.72 112.57 L567.52 111.99 L568.31 111.42 L569.10 110.85 L569.89 110.30 L570.69 109.76 L571.48 109.23 L572.27 108.71 L573.06 108.20 L573.86 107.70 L574.65 107.21 L575.44 106.73 L576.23 106.25 L577.03 105.79 L577.82 105.33 L578.61 104.88 L579.40 104.44 L580.20 104.01 L580.99 103.58 L581.78 103.16 L582.58 102.75 L583.37 102.34 L584.16 101.94 L584.95 101.55 L585.75 101.17 L586.54 100.79 L587.33 100.42 L588.12 100.05 L588.92 99.69 L589.71 99.34 L590.50 98.99 L591.29 98.64 L592.09 98.30 L592.88 97.97 L593.67 97.64 L594.46 97.32 L595.26 97.00 L596.05 96.69 L596.84 96.38 L597.64 96.08 L598.43 95.78 L599.22 95.48 L600.01 95.19 L600.81 94.91 L601.60 94.62 L602.39 94.35 L603.18 94.07 L603.98 93.80 L604.77 93.54 L605.56 93.27 L606.35 93.01 L607.15 92.76 L607.94 92.51 L608.73 92.26 L609.53 92.01 L610.32 91.77 L611.11 91.53 L611.90 91.30 L612.70 91.07 L613.49 90.84 L614.28 90.61 L615.07 90.39 L615.87 90.17 L616.66 89.95 L617.45 89.73 L618.24 89.52 L619.04 89.31 L619.83 89.11 L620.62 88.90 L621.41 88.70 L622.21 88.50 L623.00 88.31" fill="none" stroke="#2f6fe6" stroke-width="1.3" stroke-linejoin="round"/>
<path d="M386.00 75.13 L386.79 75.20 L387.59 75.28 L388.38 75.35 L389.17 75.43 L389.96 75.51 L390.76 75.60 L391.55 75.68 L392.34 75.77 L393.13 75.86 L393.93 75.95 L394.72 76.04 L395.51 76.14 L396.30 76.23 L397.10 76.33 L397.89 76.43 L398.68 76.54 L399.47 76.65 L400.27 76.75 L401.06 76.87 L401.85 76.98 L402.65 77.10 L403.44 77.21 L404.23 77.34 L405.02 77.46 L405.82 77.59 L406.61 77.72 L407.40 77.85 L408.19 77.99 L408.99 78.13 L409.78 78.27 L410.57 78.41 L411.36 78.56 L412.16 78.71 L412.95 78.87 L413.74 79.03 L414.54 79.19 L415.33 79.35 L416.12 79.52 L416.91 79.70 L417.71 79.87 L418.50 80.05 L419.29 80.24 L420.08 80.43 L420.88 80.62 L421.67 80.82 L422.46 81.02 L423.25 81.22 L424.05 81.43 L424.84 81.65 L425.63 81.87 L426.42 82.09 L427.22 82.32 L428.01 82.55 L428.80 82.79 L429.60 83.04 L430.39 83.28 L431.18 83.54 L431.97 83.80 L432.77 84.07 L433.56 84.34 L434.35 84.61 L435.14 84.90 L435.94 85.19 L436.73 85.48 L437.52 85.79 L438.31 86.09 L439.11 86.41 L439.90 86.73 L440.69 87.06 L441.48 87.40 L442.28 87.74 L443.07 88.09 L443.86 88.45 L444.66 88.82 L445.45 89.19 L446.24 89.57 L447.03 89.96 L447.83 90.36 L448.62 90.77 L449.41 91.18 L450.20 91.61 L451.00 92.04 L451.79 92.48 L452.58 92.94 L453.37 93.40 L454.17 93.87 L454.96 94.35 L455.75 94.85 L456.55 95.35 L457.34 95.86 L458.13 96.39 L458.92 96.93 L459.72 97.47 L460.51 98.03 L461.30 98.61 L462.09 99.19 L462.89 99.79 L463.68 100.40 L464.47 101.02 L465.26 101.66 L466.06 102.31 L466.85 102.97 L467.64 103.65 L468.43 104.34 L469.23 105.05 L470.02 105.77 L470.81 106.51 L471.61 107.27 L472.40 108.04 L473.19 108.83 L473.98 109.64 L474.78 110.46 L475.57 111.30 L476.36 112.16 L477.15 113.04 L477.95 113.94 L478.74 114.86 L479.53 115.80 L480.32 116.76 L481.12 117.74 L481.91 118.75 L482.70 119.77 L483.49 120.82 L484.29 121.90 L485.08 122.99 L485.87 124.11 L486.67 125.26 L487.46 126.43 L488.25 127.63 L489.04 128.85 L489.84 130.10 L490.63 131.38 L491.42 132.68 L492.21 134.01 L493.01 135.37 L493.80 136.76 L494.59 138.18 L495.38 139.62 L496.18 141.09 L496.97 142.58 L497.76 144.10 L498.56 145.64 L499.35 147.20 L500.14 148.78 L500.93 150.38 L501.73 151.99 L502.52 153.60 L503.31 155.21 L504.10 156.81 L504.90 158.40 L505.69 159.96 L506.48 161.48 L507.27 162.95 L508.07 164.36 L508.86 165.69 L509.65 166.92 L510.44 168.04 L511.24 169.02 L512.03 169.86 L512.82 170.54 L513.62 171.04 L514.41 171.36 L515.20 171.50 L515.99 171.44 L516.79 171.20 L517.58 170.78 L518.37 170.20 L519.16 169.46 L519.96 168.59 L520.75 167.59 L521.54 166.50 L522.33 165.31 L523.13 164.06 L523.92 162.74 L524.71 161.39 L525.51 160.01 L526.30 158.60 L527.09 157.18 L527.88 155.76 L528.68 154.34 L529.47 152.93 L530.26 151.53 L531.05 150.15 L531.85 148.78 L532.64 147.44 L533.43 146.11 L534.22 144.81 L535.02 143.54 L535.81 142.29 L536.60 141.06 L537.39 139.86 L538.19 138.69 L538.98 137.54 L539.77 136.42 L540.57 135.32 L541.36 134.25 L542.15 133.20 L542.94 132.17 L543.74 131.17 L544.53 130.19 L545.32 129.23 L546.11 128.29 L546.91 127.38 L547.70 126.48 L548.49 125.61 L549.28 124.75 L550.08 123.91 L550.87 123.09 L551.66 122.29 L552.45 121.51 L553.25 120.74 L554.04 119.99 L554.83 119.26 L555.63 118.54 L556.42 117.83 L557.21 117.14 L558.00 116.47 L558.80 115.81 L559.59 115.16 L560.38 114.52 L561.17 113.90 L561.97 113.29 L562.76 112.69 L563.55 112.11 L564.34 111.53 L565.14 110.97 L565.93 110.42 L566.72 109.87 L567.52 109.34 L568.31 108.82 L569.10 108.31 L569.89 107.80 L570.69 107.31 L571.48 106.83 L572.27 106.35 L573.06 105.88 L573.86 105.42 L574.65 104.97 L575.44 104.53 L576.23 104.09 L577.03 103.67 L577.82 103.25 L578.61 102.83 L579.40 102.43 L580.20 102.03 L580.99 101.63 L581.78 101.25 L582.58 100.87 L583.37 100.49 L584.16 100.13 L584.95 99.76 L585.75 99.41 L586.54 99.06 L587.33 98.71 L588.12 98.37 L588.92 98.04 L589.71 97.71 L590.50 97.39 L591.29 97.07 L592.09 96.75 L592.88 96.44 L593.67 96.14 L594.46 95.84 L595.26 95.54 L596.05 95.25 L596.84 94.97 L597.64 94.68 L598.43 94.40 L599.22 94.13 L600.01 93.86 L600.81 93.59 L601.60 93.33 L602.39 93.07 L603.18 92.81 L603.98 92.56 L604.77 92.31 L605.56 92.06 L606.35 91.82 L607.15 91.58 L607.94 91.35 L608.73 91.11 L609.53 90.88 L610.32 90.66 L611.11 90.43 L611.90 90.21 L612.70 89.99 L613.49 89.78 L614.28 89.57 L615.07 89.36 L615.87 89.15 L616.66 88.94 L617.45 88.74 L618.24 88.54 L619.04 88.35 L619.83 88.15 L620.62 87.96 L621.41 87.77 L622.21 87.58 L623.00 87.39" fill="none" stroke="#3dab6b" stroke-width="1.3" stroke-linejoin="round"/>
<path d="M386.00 75.05 L386.79 75.13 L387.59 75.20 L388.38 75.28 L389.17 75.35 L389.96 75.43 L390.76 75.51 L391.55 75.60 L392.34 75.68 L393.13 75.77 L393.93 75.86 L394.72 75.95 L395.51 76.04 L396.30 76.14 L397.10 76.23 L397.89 76.33 L398.68 76.43 L399.47 76.54 L400.27 76.64 L401.06 76.75 L401.85 76.86 L402.65 76.98 L403.44 77.09 L404.23 77.21 L405.02 77.34 L405.82 77.46 L406.61 77.59 L407.40 77.72 L408.19 77.85 L408.99 77.99 L409.78 78.12 L410.57 78.27 L411.36 78.41 L412.16 78.56 L412.95 78.71 L413.74 78.87 L414.54 79.02 L415.33 79.19 L416.12 79.35 L416.91 79.52 L417.71 79.69 L418.50 79.87 L419.29 80.05 L420.08 80.24 L420.88 80.42 L421.67 80.62 L422.46 80.81 L423.25 81.01 L424.05 81.22 L424.84 81.43 L425.63 81.64 L426.42 81.86 L427.22 82.09 L428.01 82.32 L428.80 82.55 L429.60 82.79 L430.39 83.03 L431.18 83.28 L431.97 83.54 L432.77 83.80 L433.56 84.06 L434.35 84.33 L435.14 84.61 L435.94 84.90 L436.73 85.18 L437.52 85.48 L438.31 85.78 L439.11 86.09 L439.90 86.41 L440.69 86.73 L441.48 87.06 L442.28 87.39 L443.07 87.74 L443.86 88.09 L444.66 88.45 L445.45 88.81 L446.24 89.19 L447.03 89.57 L447.83 89.96 L448.62 90.36 L449.41 90.76 L450.20 91.18 L451.00 91.60 L451.79 92.04 L452.58 92.48 L453.37 92.93 L454.17 93.40 L454.96 93.87 L455.75 94.35 L456.55 94.84 L457.34 95.35 L458.13 95.86 L458.92 96.38 L459.72 96.92 L460.51 97.47 L461.30 98.03 L462.09 98.60 L462.89 99.18 L463.68 99.78 L464.47 100.39 L465.26 101.01 L466.06 101.65 L466.85 102.30 L467.64 102.96 L468.43 103.64 L469.23 104.33 L470.02 105.04 L470.81 105.77 L471.61 106.51 L472.40 107.26 L473.19 108.03 L473.98 108.82 L474.78 109.63 L475.57 110.45 L476.36 111.29 L477.15 112.15 L477.95 113.03 L478.74 113.93 L479.53 114.85 L480.32 115.79 L481.12 116.75 L481.91 117.73 L482.70 118.74 L483.49 119.76 L484.29 120.81 L485.08 121.89 L485.87 122.98 L486.67 124.10 L487.46 125.25 L488.25 126.42 L489.04 127.62 L489.84 128.84 L490.63 130.09 L491.42 131.37 L492.21 132.67 L493.01 134.00 L493.80 135.36 L494.59 136.75 L495.38 138.16 L496.18 139.61 L496.97 141.07 L497.76 142.57 L498.56 144.09 L499.35 145.63 L500.14 147.19 L500.93 148.77 L501.73 150.36 L502.52 151.97 L503.31 153.58 L504.10 155.19 L504.90 156.80 L505.69 158.38 L506.48 159.94 L507.27 161.47 L508.07 162.94 L508.86 164.35 L509.65 165.68 L510.44 166.91 L511.24 168.03 L512.03 169.02 L512.82 169.86 L513.62 170.53 L514.41 171.04 L515.20 171.36 L515.99 171.50 L516.79 171.44 L517.58 171.20 L518.37 170.79 L519.16 170.21 L519.96 169.47 L520.75 168.60 L521.54 167.60 L522.33 166.51 L523.13 165.32 L523.92 164.07 L524.71 162.76 L525.51 161.40 L526.30 160.02 L527.09 158.61 L527.88 157.20 L528.68 155.78 L529.47 154.36 L530.26 152.94 L531.05 151.55 L531.85 150.16 L532.64 148.80 L533.43 147.45 L534.22 146.13 L535.02 144.83 L535.81 143.55 L536.60 142.30 L537.39 141.08 L538.19 139.88 L538.98 138.70 L539.77 137.55 L540.57 136.43 L541.36 135.33 L542.15 134.26 L542.94 133.21 L543.74 132.18 L544.53 131.18 L545.32 130.20 L546.11 129.24 L546.91 128.30 L547.70 127.38 L548.49 126.49 L549.28 125.61 L550.08 124.76 L550.87 123.92 L551.66 123.10 L552.45 122.30 L553.25 121.52 L554.04 120.75 L554.83 120.00 L555.63 119.26 L556.42 118.54 L557.21 117.84 L558.00 117.15 L558.80 116.47 L559.59 115.81 L560.38 115.16 L561.17 114.53 L561.97 113.91 L562.76 113.30 L563.55 112.70 L564.34 112.11 L565.14 111.54 L565.93 110.97 L566.72 110.42 L567.52 109.88 L568.31 109.35 L569.10 108.82 L569.89 108.31 L570.69 107.81 L571.48 107.32 L572.27 106.83 L573.06 106.35 L573.86 105.89 L574.65 105.43 L575.44 104.98 L576.23 104.53 L577.03 104.10 L577.82 103.67 L578.61 103.25 L579.40 102.84 L580.20 102.43 L580.99 102.03 L581.78 101.64 L582.58 101.25 L583.37 100.87 L584.16 100.50 L584.95 100.13 L585.75 99.77 L586.54 99.41 L587.33 99.06 L588.12 98.72 L588.92 98.38 L589.71 98.04 L590.50 97.71 L591.29 97.39 L592.09 97.07 L592.88 96.76 L593.67 96.45 L594.46 96.14 L595.26 95.84 L596.05 95.55 L596.84 95.26 L597.64 94.97 L598.43 94.69 L599.22 94.41 L600.01 94.13 L600.81 93.86 L601.60 93.59 L602.39 93.33 L603.18 93.07 L603.98 92.81 L604.77 92.56 L605.56 92.31 L606.35 92.07 L607.15 91.82 L607.94 91.58 L608.73 91.35 L609.53 91.12 L610.32 90.89 L611.11 90.66 L611.90 90.44 L612.70 90.21 L613.49 90.00 L614.28 89.78 L615.07 89.57 L615.87 89.36 L616.66 89.15 L617.45 88.95 L618.24 88.74 L619.04 88.54 L619.83 88.35 L620.62 88.15 L621.41 87.96 L622.21 87.77 L623.00 87.58" fill="none" stroke="#b474ec" stroke-width="1.3" stroke-linejoin="round"/>
<path d="M386.00 75.16 L386.79 75.23 L387.59 75.31 L388.38 75.39 L389.17 75.47 L389.96 75.55 L390.76 75.63 L391.55 75.72 L392.34 75.80 L393.13 75.89 L393.93 75.99 L394.72 76.08 L395.51 76.17 L396.30 76.27 L397.10 76.37 L397.89 76.48 L398.68 76.58 L399.47 76.69 L400.27 76.80 L401.06 76.91 L401.85 77.03 L402.65 77.14 L403.44 77.26 L404.23 77.39 L405.02 77.51 L405.82 77.64 L406.61 77.77 L407.40 77.90 L408.19 78.04 L408.99 78.18 L409.78 78.33 L410.57 78.47 L411.36 78.62 L412.16 78.77 L412.95 78.93 L413.74 79.09 L414.54 79.25 L415.33 79.42 L416.12 79.59 L416.91 79.77 L417.71 79.94 L418.50 80.13 L419.29 80.31 L420.08 80.50 L420.88 80.70 L421.67 80.89 L422.46 81.10 L423.25 81.30 L424.05 81.52 L424.84 81.73 L425.63 81.95 L426.42 82.18 L427.22 82.41 L428.01 82.65 L428.80 82.89 L429.60 83.13 L430.39 83.39 L431.18 83.64 L431.97 83.90 L432.77 84.17 L433.56 84.45 L434.35 84.73 L435.14 85.01 L435.94 85.30 L436.73 85.60 L437.52 85.91 L438.31 86.22 L439.11 86.54 L439.90 86.86 L440.69 87.19 L441.48 87.53 L442.28 87.88 L443.07 88.23 L443.86 88.59 L444.66 88.96 L445.45 89.34 L446.24 89.73 L447.03 90.12 L447.83 90.52 L448.62 90.93 L449.41 91.35 L450.20 91.78 L451.00 92.22 L451.79 92.66 L452.58 93.12 L453.37 93.59 L454.17 94.06 L454.96 94.55 L455.75 95.05 L456.55 95.55 L457.34 96.07 L458.13 96.60 L458.92 97.14 L459.72 97.70 L460.51 98.26 L461.30 98.84 L462.09 99.43 L462.89 100.03 L463.68 100.64 L464.47 101.27 L465.26 101.91 L466.06 102.57 L466.85 103.24 L467.64 103.92 L468.43 104.62 L469.23 105.34 L470.02 106.07 L470.81 106.81 L471.61 107.57 L472.40 108.35 L473.19 109.15 L473.98 109.96 L474.78 110.79 L475.57 111.64 L476.36 112.51 L477.15 113.40 L477.95 114.31 L478.74 115.23 L479.53 116.18 L480.32 117.15 L481.12 118.14 L481.91 119.15 L482.70 120.19 L483.49 121.25 L484.29 122.33 L485.08 123.44 L485.87 124.57 L486.67 125.72 L487.46 126.90 L488.25 128.11 L489.04 129.34 L489.84 130.61 L490.63 131.89 L491.42 133.21 L492.21 134.55 L493.01 135.92 L493.80 137.32 L494.59 138.75 L495.38 140.20 L496.18 141.68 L496.97 143.18 L497.76 144.71 L498.56 146.26 L499.35 147.83 L500.14 149.42 L500.93 151.02 L501.73 152.63 L502.52 154.24 L503.31 155.85 L504.10 157.44 L504.90 159.02 L505.69 160.57 L506.48 162.07 L507.27 163.52 L508.07 164.90 L508.86 166.19 L509.65 167.38 L510.44 168.45 L511.24 169.38 L512.03 170.15 L512.82 170.76 L513.62 171.19 L514.41 171.44 L515.20 171.50 L515.99 171.37 L516.79 171.06 L517.58 170.57 L518.37 169.92 L519.16 169.13 L519.96 168.21 L520.75 167.17 L521.54 166.03 L522.33 164.82 L523.13 163.54 L523.92 162.21 L524.71 160.84 L525.51 159.45 L526.30 158.04 L527.09 156.62 L527.88 155.20 L528.68 153.78 L529.47 152.37 L530.26 150.98 L531.05 149.60 L531.85 148.24 L532.64 146.91 L533.43 145.59 L534.22 144.30 L535.02 143.04 L535.81 141.80 L536.60 140.58 L537.39 139.39 L538.19 138.23 L538.98 137.09 L539.77 135.98 L540.57 134.89 L541.36 133.83 L542.15 132.79 L542.94 131.77 L543.74 130.77 L544.53 129.80 L545.32 128.85 L546.11 127.92 L546.91 127.02 L547.70 126.13 L548.49 125.26 L549.28 124.41 L550.08 123.58 L550.87 122.77 L551.66 121.98 L552.45 121.20 L553.25 120.44 L554.04 119.70 L554.83 118.97 L555.63 118.25 L556.42 117.56 L557.21 116.87 L558.00 116.20 L558.80 115.55 L559.59 114.90 L560.38 114.27 L561.17 113.66 L561.97 113.05 L562.76 112.46 L563.55 111.88 L564.34 111.31 L565.14 110.75 L565.93 110.20 L566.72 109.66 L567.52 109.13 L568.31 108.61 L569.10 108.11 L569.89 107.61 L570.69 107.12 L571.48 106.64 L572.27 106.16 L573.06 105.70 L573.86 105.24 L574.65 104.79 L575.44 104.35 L576.23 103.92 L577.03 103.50 L577.82 103.08 L578.61 102.67 L579.40 102.27 L580.20 101.87 L580.99 101.48 L581.78 101.09 L582.58 100.72 L583.37 100.35 L584.16 99.98 L584.95 99.62 L585.75 99.27 L586.54 98.92 L587.33 98.58 L588.12 98.24 L588.92 97.91 L589.71 97.58 L590.50 97.26 L591.29 96.94 L592.09 96.63 L592.88 96.32 L593.67 96.02 L594.46 95.72 L595.26 95.43 L596.05 95.14 L596.84 94.85 L597.64 94.57 L598.43 94.29 L599.22 94.02 L600.01 93.75 L600.81 93.49 L601.60 93.22 L602.39 92.97 L603.18 92.71 L603.98 92.46 L604.77 92.21 L605.56 91.97 L606.35 91.73 L607.15 91.49 L607.94 91.25 L608.73 91.02 L609.53 90.79 L610.32 90.57 L611.11 90.34 L611.90 90.13 L612.70 89.91 L613.49 89.69 L614.28 89.48 L615.07 89.27 L615.87 89.07 L616.66 88.86 L617.45 88.66 L618.24 88.46 L619.04 88.27 L619.83 88.07 L620.62 87.88 L621.41 87.69 L622.21 87.51 L623.00 87.32" fill="none" stroke="#d9a22e" stroke-width="1.3" stroke-linejoin="round"/>
<line x1="49.60" y1="449.40" x2="49.60" y2="445.70" stroke="#000" stroke-width="1"/>
<line x1="96.94" y1="449.40" x2="96.94" y2="445.70" stroke="#000" stroke-width="1"/>
<line x1="144.28" y1="449.40" x2="144.28" y2="445.70" stroke="#000" stroke-width="1"/>
<line x1="191.62" y1="449.40" x2="191.62" y2="445.70" stroke="#000" stroke-width="1"/>
<line x1="238.96" y1="449.40" x2="238.96" y2="445.70" stroke="#000" stroke-width="1"/>
<line x1="286.30" y1="449.40" x2="286.30" y2="445.70" stroke="#000" stroke-width="1"/>
<line x1="73.27" y1="449.40" x2="73.27" y2="447.40" stroke="#000" stroke-width="1"/>
<line x1="120.61" y1="449.40" x2="120.61" y2="447.40" stroke="#000" stroke-width="1"/>
<line x1="167.95" y1="449.40" x2="167.95" y2="447.40" stroke="#000" stroke-width="1"/>
<line x1="215.29" y1="449.40" x2="215.29" y2="447.40" stroke="#000" stroke-width="1"/>
<line x1="262.63" y1="449.40" x2="262.63" y2="447.40" stroke="#000" stroke-width="1"/>
<line x1="49.60" y1="258.40" x2="53.30" y2="258.40" stroke="#000" stroke-width="1"/>
<line x1="49.60" y1="287.78" x2="53.30" y2="287.78" stroke="#000" stroke-width="1"/>
<line x1="49.60" y1="317.17" x2="53.30" y2="317.17" stroke="#000" stroke-width="1"/>
<line x1="49.60" y1="346.55" x2="53.30" y2="346.55" stroke="#000" stroke-width="1"/>
<line x1="49.60" y1="375.94" x2="53.30" y2="375.94" stroke="#000" stroke-width="1"/>
<line x1="49.60" y1="405.32" x2="53.30" y2="405.32" stroke="#000" stroke-width="1"/>
<line x1="49.60" y1="434.71" x2="53.30" y2="434.71" stroke="#000" stroke-width="1"/>
<line x1="49.60" y1="273.09" x2="51.60" y2="273.09" stroke="#000" stroke-width="1"/>
<line x1="49.60" y1="302.48" x2="51.60" y2="302.48" stroke="#000" stroke-width="1"/>
<line x1="49.60" y1="331.86" x2="51.60" y2="331.86" stroke="#000" stroke-width="1"/>
<line x1="49.60" y1="361.25" x2="51.60" y2="361.25" stroke="#000" stroke-width="1"/>
<line x1="49.60" y1="390.63" x2="51.60" y2="390.63" stroke="#000" stroke-width="1"/>
<line x1="49.60" y1="420.02" x2="51.60" y2="420.02" stroke="#000" stroke-width="1"/>
<rect x="49.60" y="258.40" width="236.70" height="191.00" fill="none" stroke="#000" stroke-width="1.6"/>
<text x="49.60" y="461.20" font-family='"Liberation Serif", serif' font-size="9.2" font-weight="bold" text-anchor="middle" fill="#000" >457.20</text>
<text x="96.94" y="461.20" font-family='"Liberation Serif", serif' font-size="9.2" font-weight="bold" text-anchor="middle" fill="#000" >457.25</text>
<text x="144.28" y="461.20" font-family='"Liberation Serif", serif' font-size="9.2" font-weight="bold" text-anchor="middle" fill="#000" >457.30</text>
<text x="191.62" y="461.20" font-family='"Liberation Serif", serif' font-size="9.2" font-weight="bold" text-anchor="middle" fill="#000" >457.35</text>
<text x="238.96" y="461.20" font-family='"Liberation Serif", serif' font-size="9.2" font-weight="bold" text-anchor="middle" fill="#000" >457.40</text>
<text x="286.30" y="461.20" font-family='"Liberation Serif", serif' font-size="9.2" font-weight="bold" text-anchor="middle" fill="#000" >457.45</text>
<text transform="translate(45.70,261.20) scale(1.08,1)" font-family='"Liberation Serif", serif' font-size="9.4" font-weight="bold" text-anchor="end">&#8722;5</text>
<text transform="translate(45.70,290.58) scale(1.08,1)" font-family='"Liberation Serif", serif' font-size="9.4" font-weight="bold" text-anchor="end">&#8722;10</text>
<text transform="translate(45.70,319.97) scale(1.08,1)" font-family='"Liberation Serif", serif' font-size="9.4" font-weight="bold" text-anchor="end">&#8722;15</text>
<text transform="translate(45.70,349.35) scale(1.08,1)" font-family='"Liberation Serif", serif' font-size="9.4" font-weight="bold" text-anchor="end">&#8722;20</text>
<text transform="translate(45.70,378.74) scale(1.08,1)" font-family='"Liberation Serif", serif' font-size="9.4" font-weight="bold" text-anchor="end">&#8722;25</text>
<text transform="translate(45.70,408.12) scale(1.08,1)" font-family='"Liberation Serif", serif' font-size="9.4" font-weight="bold" text-anchor="end">&#8722;30</text>
<text transform="translate(45.70,437.51) scale(1.08,1)" font-family='"Liberation Serif", serif' font-size="9.4" font-weight="bold" text-anchor="end">&#8722;35</text>
<path d="M49.60 318.16 L50.39 318.19 L51.18 318.22 L51.97 318.25 L52.77 318.28 L53.56 318.32 L54.35 318.35 L55.14 318.39 L55.93 318.43 L56.72 318.47 L57.52 318.51 L58.31 318.55 L59.10 318.59 L59.89 318.63 L60.68 318.68 L61.47 318.73 L62.27 318.78 L63.06 318.83 L63.85 318.88 L64.64 318.93 L65.43 318.99 L66.22 319.04 L67.02 319.10 L67.81 319.16 L68.60 319.22 L69.39 319.29 L70.18 319.35 L70.97 319.42 L71.77 319.48 L72.56 319.56 L73.35 319.63 L74.14 319.70 L74.93 319.78 L75.72 319.86 L76.52 319.94 L77.31 320.02 L78.10 320.10 L78.89 320.19 L79.68 320.28 L80.47 320.37 L81.27 320.46 L82.06 320.55 L82.85 320.65 L83.64 320.75 L84.43 320.85 L85.22 320.96 L86.02 321.07 L86.81 321.17 L87.60 321.29 L88.39 321.40 L89.18 321.52 L89.97 321.64 L90.77 321.76 L91.56 321.89 L92.35 322.02 L93.14 322.15 L93.93 322.28 L94.72 322.42 L95.52 322.56 L96.31 322.70 L97.10 322.85 L97.89 323.00 L98.68 323.16 L99.47 323.31 L100.26 323.47 L101.06 323.64 L101.85 323.80 L102.64 323.97 L103.43 324.15 L104.22 324.33 L105.01 324.51 L105.81 324.69 L106.60 324.88 L107.39 325.08 L108.18 325.28 L108.97 325.48 L109.76 325.68 L110.56 325.89 L111.35 326.11 L112.14 326.33 L112.93 326.55 L113.72 326.78 L114.51 327.01 L115.31 327.25 L116.10 327.49 L116.89 327.74 L117.68 327.99 L118.47 328.25 L119.26 328.51 L120.06 328.78 L120.85 329.06 L121.64 329.33 L122.43 329.62 L123.22 329.91 L124.01 330.20 L124.81 330.51 L125.60 330.81 L126.39 331.13 L127.18 331.45 L127.97 331.77 L128.76 332.11 L129.56 332.44 L130.35 332.79 L131.14 333.14 L131.93 333.50 L132.72 333.87 L133.51 334.24 L134.31 334.62 L135.10 335.01 L135.89 335.40 L136.68 335.80 L137.47 336.21 L138.26 336.63 L139.06 337.05 L139.85 337.49 L140.64 337.93 L141.43 338.38 L142.22 338.84 L143.01 339.30 L143.81 339.78 L144.60 340.26 L145.39 340.76 L146.18 341.26 L146.97 341.77 L147.76 342.30 L148.55 342.83 L149.35 343.37 L150.14 343.92 L150.93 344.48 L151.72 345.05 L152.51 345.64 L153.30 346.23 L154.10 346.83 L154.89 347.45 L155.68 348.08 L156.47 348.71 L157.26 349.36 L158.05 350.02 L158.85 350.70 L159.64 351.38 L160.43 352.08 L161.22 352.79 L162.01 353.52 L162.80 354.26 L163.60 355.01 L164.39 355.77 L165.18 356.55 L165.97 357.34 L166.76 358.15 L167.55 358.97 L168.35 359.80 L169.14 360.65 L169.93 361.52 L170.72 362.40 L171.51 363.29 L172.30 364.20 L173.10 365.13 L173.89 366.07 L174.68 367.03 L175.47 368.00 L176.26 368.99 L177.05 370.00 L177.85 371.02 L178.64 372.06 L179.43 373.12 L180.22 374.18 L181.01 375.27 L181.80 376.37 L182.60 377.48 L183.39 378.61 L184.18 379.75 L184.97 380.91 L185.76 382.07 L186.55 383.25 L187.35 384.43 L188.14 385.62 L188.93 386.82 L189.72 388.02 L190.51 389.22 L191.30 390.42 L192.09 391.61 L192.89 392.79 L193.68 393.96 L194.47 395.10 L195.26 396.23 L196.05 397.33 L196.84 398.39 L197.64 399.41 L198.43 400.38 L199.22 401.30 L200.01 402.16 L200.80 402.94 L201.59 403.66 L202.39 404.28 L203.18 404.83 L203.97 405.27 L204.76 405.62 L205.55 405.87 L206.34 406.01 L207.14 406.05 L207.93 405.99 L208.72 405.82 L209.51 405.56 L210.30 405.20 L211.09 404.75 L211.89 404.22 L212.68 403.61 L213.47 402.93 L214.26 402.18 L215.05 401.38 L215.84 400.53 L216.64 399.64 L217.43 398.71 L218.22 397.74 L219.01 396.76 L219.80 395.75 L220.59 394.73 L221.39 393.69 L222.18 392.65 L222.97 391.61 L223.76 390.56 L224.55 389.51 L225.34 388.47 L226.14 387.44 L226.93 386.41 L227.72 385.38 L228.51 384.37 L229.30 383.37 L230.09 382.38 L230.89 381.40 L231.68 380.44 L232.47 379.49 L233.26 378.55 L234.05 377.63 L234.84 376.72 L235.64 375.82 L236.43 374.94 L237.22 374.07 L238.01 373.22 L238.80 372.38 L239.59 371.55 L240.38 370.74 L241.18 369.94 L241.97 369.15 L242.76 368.38 L243.55 367.62 L244.34 366.88 L245.13 366.14 L245.93 365.42 L246.72 364.71 L247.51 364.02 L248.30 363.33 L249.09 362.66 L249.88 362.00 L250.68 361.34 L251.47 360.70 L252.26 360.07 L253.05 359.45 L253.84 358.85 L254.63 358.25 L255.43 357.66 L256.22 357.08 L257.01 356.51 L257.80 355.94 L258.59 355.39 L259.38 354.85 L260.18 354.31 L260.97 353.78 L261.76 353.27 L262.55 352.75 L263.34 352.25 L264.13 351.76 L264.93 351.27 L265.72 350.79 L266.51 350.31 L267.30 349.85 L268.09 349.39 L268.88 348.94 L269.68 348.49 L270.47 348.05 L271.26 347.62 L272.05 347.19 L272.84 346.77 L273.63 346.35 L274.43 345.94 L275.22 345.54 L276.01 345.14 L276.80 344.75 L277.59 344.36 L278.38 343.98 L279.18 343.61 L279.97 343.23 L280.76 342.87 L281.55 342.51 L282.34 342.15 L283.13 341.80 L283.93 341.45 L284.72 341.10 L285.51 340.77 L286.30 340.43" fill="none" stroke="#4d4d4d" stroke-width="1.3" stroke-linejoin="round"/>
<path d="M49.60 318.53 L50.39 318.57 L51.18 318.62 L51.97 318.66 L52.77 318.71 L53.56 318.76 L54.35 318.81 L55.14 318.86 L55.93 318.91 L56.72 318.96 L57.52 319.02 L58.31 319.08 L59.10 319.14 L59.89 319.20 L60.68 319.26 L61.47 319.32 L62.27 319.39 L63.06 319.46 L63.85 319.53 L64.64 319.60 L65.43 319.67 L66.22 319.75 L67.02 319.82 L67.81 319.90 L68.60 319.99 L69.39 320.07 L70.18 320.15 L70.97 320.24 L71.77 320.33 L72.56 320.42 L73.35 320.52 L74.14 320.61 L74.93 320.71 L75.72 320.81 L76.52 320.92 L77.31 321.02 L78.10 321.13 L78.89 321.24 L79.68 321.36 L80.47 321.47 L81.27 321.59 L82.06 321.71 L82.85 321.84 L83.64 321.97 L84.43 322.10 L85.22 322.23 L86.02 322.37 L86.81 322.51 L87.60 322.65 L88.39 322.79 L89.18 322.94 L89.97 323.10 L90.77 323.25 L91.56 323.41 L92.35 323.57 L93.14 323.74 L93.93 323.91 L94.72 324.08 L95.52 324.26 L96.31 324.44 L97.10 324.62 L97.89 324.81 L98.68 325.00 L99.47 325.20 L100.26 325.40 L101.06 325.60 L101.85 325.81 L102.64 326.03 L103.43 326.24 L104.22 326.46 L105.01 326.69 L105.81 326.92 L106.60 327.16 L107.39 327.40 L108.18 327.64 L108.97 327.90 L109.76 328.15 L110.56 328.41 L111.35 328.68 L112.14 328.95 L112.93 329.23 L113.72 329.51 L114.51 329.80 L115.31 330.09 L116.10 330.39 L116.89 330.69 L117.68 331.00 L118.47 331.32 L119.26 331.65 L120.06 331.98 L120.85 332.31 L121.64 332.65 L122.43 333.00 L123.22 333.36 L124.01 333.72 L124.81 334.09 L125.60 334.47 L126.39 334.85 L127.18 335.25 L127.97 335.64 L128.76 336.05 L129.56 336.47 L130.35 336.89 L131.14 337.32 L131.93 337.76 L132.72 338.20 L133.51 338.66 L134.31 339.12 L135.10 339.59 L135.89 340.08 L136.68 340.57 L137.47 341.06 L138.26 341.57 L139.06 342.09 L139.85 342.62 L140.64 343.16 L141.43 343.70 L142.22 344.26 L143.01 344.83 L143.81 345.41 L144.60 346.00 L145.39 346.60 L146.18 347.21 L146.97 347.83 L147.76 348.46 L148.55 349.11 L149.35 349.77 L150.14 350.43 L150.93 351.12 L151.72 351.81 L152.51 352.52 L153.30 353.24 L154.10 353.97 L154.89 354.71 L155.68 355.47 L156.47 356.24 L157.26 357.03 L158.05 357.83 L158.85 358.65 L159.64 359.48 L160.43 360.32 L161.22 361.18 L162.01 362.05 L162.80 362.94 L163.60 363.85 L164.39 364.77 L165.18 365.70 L165.97 366.66 L166.76 367.62 L167.55 368.61 L168.35 369.61 L169.14 370.62 L169.93 371.66 L170.72 372.70 L171.51 373.77 L172.30 374.85 L173.10 375.94 L173.89 377.05 L174.68 378.17 L175.47 379.31 L176.26 380.46 L177.05 381.62 L177.85 382.79 L178.64 383.97 L179.43 385.16 L180.22 386.35 L181.01 387.55 L181.80 388.75 L182.60 389.95 L183.39 391.14 L184.18 392.33 L184.97 393.50 L185.76 394.66 L186.55 395.80 L187.35 396.90 L188.14 397.98 L188.93 399.02 L189.72 400.01 L190.51 400.95 L191.30 401.83 L192.09 402.65 L192.89 403.39 L193.68 404.05 L194.47 404.63 L195.26 405.11 L196.05 405.50 L196.84 405.78 L197.64 405.97 L198.43 406.05 L199.22 406.03 L200.01 405.90 L200.80 405.67 L201.59 405.35 L202.39 404.94 L203.18 404.44 L203.97 403.85 L204.76 403.20 L205.55 402.48 L206.34 401.70 L207.14 400.87 L207.93 399.99 L208.72 399.07 L209.51 398.12 L210.30 397.14 L211.09 396.14 L211.89 395.13 L212.68 394.10 L213.47 393.06 L214.26 392.01 L215.05 390.97 L215.84 389.92 L216.64 388.88 L217.43 387.84 L218.22 386.80 L219.01 385.78 L219.80 384.76 L220.59 383.76 L221.39 382.76 L222.18 381.78 L222.97 380.81 L223.76 379.86 L224.55 378.91 L225.34 377.98 L226.14 377.07 L226.93 376.17 L227.72 375.28 L228.51 374.41 L229.30 373.55 L230.09 372.70 L230.89 371.87 L231.68 371.05 L232.47 370.25 L233.26 369.46 L234.05 368.68 L234.84 367.92 L235.64 367.17 L236.43 366.43 L237.22 365.70 L238.01 364.99 L238.80 364.29 L239.59 363.60 L240.38 362.92 L241.18 362.25 L241.97 361.60 L242.76 360.95 L243.55 360.32 L244.34 359.69 L245.13 359.08 L245.93 358.48 L246.72 357.88 L247.51 357.30 L248.30 356.73 L249.09 356.16 L249.88 355.60 L250.68 355.06 L251.47 354.52 L252.26 353.99 L253.05 353.47 L253.84 352.95 L254.63 352.45 L255.43 351.95 L256.22 351.46 L257.01 350.97 L257.80 350.50 L258.59 350.03 L259.38 349.57 L260.18 349.11 L260.97 348.66 L261.76 348.22 L262.55 347.78 L263.34 347.36 L264.13 346.93 L264.93 346.51 L265.72 346.10 L266.51 345.70 L267.30 345.30 L268.09 344.90 L268.88 344.51 L269.68 344.13 L270.47 343.75 L271.26 343.38 L272.05 343.01 L272.84 342.65 L273.63 342.29 L274.43 341.93 L275.22 341.58 L276.01 341.24 L276.80 340.90 L277.59 340.56 L278.38 340.23 L279.18 339.90 L279.97 339.58 L280.76 339.26 L281.55 338.94 L282.34 338.63 L283.13 338.32 L283.93 338.02 L284.72 337.72 L285.51 337.42 L286.30 337.13" fill="none" stroke="#f04646" stroke-width="1.3" stroke-linejoin="round"/>
<path d="M49.60 319.14 L50.39 319.20 L51.18 319.26 L51.97 319.33 L52.77 319.39 L53.56 319.46 L54.35 319.53 L55.14 319.60 L55.93 319.68 L56.72 319.75 L57.52 319.83 L58.31 319.91 L59.10 319.99 L59.89 320.07 L60.68 320.16 L61.47 320.25 L62.27 320.34 L63.06 320.43 L63.85 320.52 L64.64 320.62 L65.43 320.72 L66.22 320.82 L67.02 320.92 L67.81 321.03 L68.60 321.14 L69.39 321.25 L70.18 321.36 L70.97 321.48 L71.77 321.60 L72.56 321.72 L73.35 321.85 L74.14 321.98 L74.93 322.11 L75.72 322.24 L76.52 322.38 L77.31 322.52 L78.10 322.66 L78.89 322.80 L79.68 322.95 L80.47 323.11 L81.27 323.26 L82.06 323.42 L82.85 323.58 L83.64 323.75 L84.43 323.92 L85.22 324.09 L86.02 324.27 L86.81 324.45 L87.60 324.63 L88.39 324.82 L89.18 325.02 L89.97 325.21 L90.77 325.41 L91.56 325.62 L92.35 325.83 L93.14 326.04 L93.93 326.26 L94.72 326.48 L95.52 326.71 L96.31 326.94 L97.10 327.17 L97.89 327.42 L98.68 327.66 L99.47 327.91 L100.26 328.17 L101.06 328.43 L101.85 328.70 L102.64 328.97 L103.43 329.24 L104.22 329.53 L105.01 329.82 L105.81 330.11 L106.60 330.41 L107.39 330.71 L108.18 331.03 L108.97 331.34 L109.76 331.67 L110.56 332.00 L111.35 332.33 L112.14 332.68 L112.93 333.03 L113.72 333.38 L114.51 333.75 L115.31 334.12 L116.10 334.50 L116.89 334.88 L117.68 335.27 L118.47 335.67 L119.26 336.08 L120.06 336.49 L120.85 336.92 L121.64 337.35 L122.43 337.79 L123.22 338.23 L124.01 338.69 L124.81 339.15 L125.60 339.63 L126.39 340.11 L127.18 340.60 L127.97 341.10 L128.76 341.61 L129.56 342.13 L130.35 342.66 L131.14 343.19 L131.93 343.74 L132.72 344.30 L133.51 344.87 L134.31 345.45 L135.10 346.04 L135.89 346.64 L136.68 347.25 L137.47 347.87 L138.26 348.51 L139.06 349.15 L139.85 349.81 L140.64 350.48 L141.43 351.16 L142.22 351.86 L143.01 352.56 L143.81 353.28 L144.60 354.02 L145.39 354.76 L146.18 355.52 L146.97 356.30 L147.76 357.08 L148.55 357.89 L149.35 358.70 L150.14 359.53 L150.93 360.38 L151.72 361.24 L152.51 362.11 L153.30 363.00 L154.10 363.91 L154.89 364.83 L155.68 365.77 L156.47 366.72 L157.26 367.69 L158.05 368.67 L158.85 369.68 L159.64 370.69 L160.43 371.73 L161.22 372.77 L162.01 373.84 L162.80 374.92 L163.60 376.01 L164.39 377.12 L165.18 378.25 L165.97 379.39 L166.76 380.54 L167.55 381.70 L168.35 382.87 L169.14 384.05 L169.93 385.24 L170.72 386.44 L171.51 387.63 L172.30 388.83 L173.10 390.03 L173.89 391.22 L174.68 392.41 L175.47 393.58 L176.26 394.74 L177.05 395.87 L177.85 396.98 L178.64 398.05 L179.43 399.09 L180.22 400.08 L181.01 401.01 L181.80 401.89 L182.60 402.70 L183.39 403.44 L184.18 404.09 L184.97 404.66 L185.76 405.14 L186.55 405.52 L187.35 405.80 L188.14 405.98 L188.93 406.05 L189.72 406.02 L190.51 405.89 L191.30 405.65 L192.09 405.33 L192.89 404.90 L193.68 404.40 L194.47 403.81 L195.26 403.15 L196.05 402.43 L196.84 401.64 L197.64 400.81 L198.43 399.93 L199.22 399.01 L200.01 398.06 L200.80 397.08 L201.59 396.08 L202.39 395.06 L203.18 394.03 L203.97 392.99 L204.76 391.94 L205.55 390.90 L206.34 389.85 L207.14 388.81 L207.93 387.77 L208.72 386.74 L209.51 385.71 L210.30 384.70 L211.09 383.69 L211.89 382.70 L212.68 381.72 L213.47 380.75 L214.26 379.79 L215.05 378.85 L215.84 377.92 L216.64 377.01 L217.43 376.11 L218.22 375.22 L219.01 374.35 L219.80 373.49 L220.59 372.64 L221.39 371.81 L222.18 371.00 L222.97 370.19 L223.76 369.40 L224.55 368.63 L225.34 367.87 L226.14 367.12 L226.93 366.38 L227.72 365.65 L228.51 364.94 L229.30 364.24 L230.09 363.55 L230.89 362.87 L231.68 362.21 L232.47 361.55 L233.26 360.91 L234.05 360.28 L234.84 359.65 L235.64 359.04 L236.43 358.44 L237.22 357.84 L238.01 357.26 L238.80 356.69 L239.59 356.12 L240.38 355.57 L241.18 355.02 L241.97 354.48 L242.76 353.95 L243.55 353.43 L244.34 352.92 L245.13 352.41 L245.93 351.91 L246.72 351.42 L247.51 350.94 L248.30 350.47 L249.09 350.00 L249.88 349.54 L250.68 349.08 L251.47 348.63 L252.26 348.19 L253.05 347.76 L253.84 347.33 L254.63 346.90 L255.43 346.49 L256.22 346.08 L257.01 345.67 L257.80 345.27 L258.59 344.88 L259.38 344.49 L260.18 344.10 L260.97 343.73 L261.76 343.35 L262.55 342.98 L263.34 342.62 L264.13 342.26 L264.93 341.91 L265.72 341.56 L266.51 341.21 L267.30 340.87 L268.09 340.54 L268.88 340.21 L269.68 339.88 L270.47 339.56 L271.26 339.24 L272.05 338.92 L272.84 338.61 L273.63 338.30 L274.43 338.00 L275.22 337.70 L276.01 337.40 L276.80 337.11 L277.59 336.82 L278.38 336.53 L279.18 336.25 L279.97 335.97 L280.76 335.69 L281.55 335.42 L282.34 335.15 L283.13 334.88 L283.93 334.61 L284.72 334.35 L285.51 334.09 L286.30 333.84" fill="none" stroke="#2f6fe6" stroke-width="1.3" stroke-linejoin="round"/>
<path d="M49.60 319.88 L50.39 319.96 L51.18 320.05 L51.97 320.13 L52.77 320.22 L53.56 320.31 L54.35 320.40 L55.14 320.49 L55.93 320.59 L56.72 320.69 L57.52 320.79 L58.31 320.89 L59.10 321.00 L59.89 321.10 L60.68 321.21 L61.47 321.33 L62.27 321.44 L63.06 321.56 L63.85 321.68 L64.64 321.81 L65.43 321.93 L66.22 322.06 L67.02 322.19 L67.81 322.33 L68.60 322.47 L69.39 322.61 L70.18 322.76 L70.97 322.90 L71.77 323.05 L72.56 323.21 L73.35 323.37 L74.14 323.53 L74.93 323.69 L75.72 323.86 L76.52 324.03 L77.31 324.21 L78.10 324.39 L78.89 324.57 L79.68 324.76 L80.47 324.95 L81.27 325.15 L82.06 325.35 L82.85 325.55 L83.64 325.76 L84.43 325.97 L85.22 326.19 L86.02 326.41 L86.81 326.63 L87.60 326.86 L88.39 327.10 L89.18 327.34 L89.97 327.58 L90.77 327.83 L91.56 328.08 L92.35 328.34 L93.14 328.61 L93.93 328.88 L94.72 329.15 L95.52 329.43 L96.31 329.72 L97.10 330.01 L97.89 330.31 L98.68 330.61 L99.47 330.92 L100.26 331.24 L101.06 331.56 L101.85 331.89 L102.64 332.22 L103.43 332.56 L104.22 332.91 L105.01 333.27 L105.81 333.63 L106.60 333.99 L107.39 334.37 L108.18 334.75 L108.97 335.14 L109.76 335.54 L110.56 335.94 L111.35 336.36 L112.14 336.78 L112.93 337.20 L113.72 337.64 L114.51 338.08 L115.31 338.54 L116.10 339.00 L116.89 339.47 L117.68 339.95 L118.47 340.44 L119.26 340.93 L120.06 341.44 L120.85 341.95 L121.64 342.48 L122.43 343.01 L123.22 343.56 L124.01 344.11 L124.81 344.68 L125.60 345.26 L126.39 345.84 L127.18 346.44 L127.97 347.05 L128.76 347.67 L129.56 348.30 L130.35 348.94 L131.14 349.59 L131.93 350.26 L132.72 350.94 L133.51 351.63 L134.31 352.33 L135.10 353.05 L135.89 353.77 L136.68 354.52 L137.47 355.27 L138.26 356.04 L139.06 356.82 L139.85 357.62 L140.64 358.43 L141.43 359.26 L142.22 360.10 L143.01 360.95 L143.81 361.82 L144.60 362.71 L145.39 363.61 L146.18 364.52 L146.97 365.46 L147.76 366.40 L148.55 367.37 L149.35 368.35 L150.14 369.34 L150.93 370.36 L151.72 371.38 L152.51 372.43 L153.30 373.49 L154.10 374.56 L154.89 375.65 L155.68 376.76 L156.47 377.88 L157.26 379.01 L158.05 380.15 L158.85 381.31 L159.64 382.48 L160.43 383.66 L161.22 384.85 L162.01 386.04 L162.80 387.24 L163.60 388.44 L164.39 389.64 L165.18 390.83 L165.97 392.02 L166.76 393.20 L167.55 394.36 L168.35 395.50 L169.14 396.62 L169.93 397.70 L170.72 398.75 L171.51 399.76 L172.30 400.71 L173.10 401.61 L173.89 402.44 L174.68 403.20 L175.47 403.88 L176.26 404.48 L177.05 404.99 L177.85 405.41 L178.64 405.72 L179.43 405.93 L180.22 406.04 L181.01 406.04 L181.80 405.94 L182.60 405.74 L183.39 405.44 L184.18 405.05 L184.97 404.57 L185.76 404.01 L186.55 403.38 L187.35 402.67 L188.14 401.91 L188.93 401.09 L189.72 400.22 L190.51 399.32 L191.30 398.37 L192.09 397.40 L192.89 396.41 L193.68 395.40 L194.47 394.37 L195.26 393.33 L196.05 392.29 L196.84 391.24 L197.64 390.20 L198.43 389.15 L199.22 388.11 L200.01 387.08 L200.80 386.05 L201.59 385.03 L202.39 384.02 L203.18 383.02 L203.97 382.04 L204.76 381.07 L205.55 380.11 L206.34 379.16 L207.14 378.23 L207.93 377.31 L208.72 376.40 L209.51 375.51 L210.30 374.63 L211.09 373.77 L211.89 372.92 L212.68 372.09 L213.47 371.27 L214.26 370.46 L215.05 369.66 L215.84 368.88 L216.64 368.12 L217.43 367.36 L218.22 366.62 L219.01 365.89 L219.80 365.17 L220.59 364.47 L221.39 363.78 L222.18 363.10 L222.97 362.43 L223.76 361.77 L224.55 361.12 L225.34 360.48 L226.14 359.86 L226.93 359.24 L227.72 358.64 L228.51 358.04 L229.30 357.45 L230.09 356.88 L230.89 356.31 L231.68 355.75 L232.47 355.20 L233.26 354.66 L234.05 354.13 L234.84 353.60 L235.64 353.09 L236.43 352.58 L237.22 352.08 L238.01 351.59 L238.80 351.10 L239.59 350.62 L240.38 350.15 L241.18 349.69 L241.97 349.23 L242.76 348.78 L243.55 348.34 L244.34 347.90 L245.13 347.47 L245.93 347.04 L246.72 346.62 L247.51 346.21 L248.30 345.80 L249.09 345.40 L249.88 345.01 L250.68 344.62 L251.47 344.23 L252.26 343.85 L253.05 343.48 L253.84 343.11 L254.63 342.74 L255.43 342.38 L256.22 342.02 L257.01 341.67 L257.80 341.33 L258.59 340.99 L259.38 340.65 L260.18 340.32 L260.97 339.99 L261.76 339.66 L262.55 339.34 L263.34 339.02 L264.13 338.71 L264.93 338.40 L265.72 338.10 L266.51 337.79 L267.30 337.50 L268.09 337.20 L268.88 336.91 L269.68 336.62 L270.47 336.34 L271.26 336.06 L272.05 335.78 L272.84 335.51 L273.63 335.23 L274.43 334.97 L275.22 334.70 L276.01 334.44 L276.80 334.18 L277.59 333.92 L278.38 333.67 L279.18 333.42 L279.97 333.17 L280.76 332.92 L281.55 332.68 L282.34 332.44 L283.13 332.20 L283.93 331.96 L284.72 331.73 L285.51 331.50 L286.30 331.27" fill="none" stroke="#3dab6b" stroke-width="1.3" stroke-linejoin="round"/>
<path d="M49.60 320.85 L50.39 320.95 L51.18 321.06 L51.97 321.17 L52.77 321.28 L53.56 321.40 L54.35 321.51 L55.14 321.63 L55.93 321.76 L56.72 321.88 L57.52 322.01 L58.31 322.14 L59.10 322.28 L59.89 322.41 L60.68 322.56 L61.47 322.70 L62.27 322.85 L63.06 323.00 L63.85 323.15 L64.64 323.31 L65.43 323.47 L66.22 323.63 L67.02 323.80 L67.81 323.97 L68.60 324.14 L69.39 324.32 L70.18 324.50 L70.97 324.69 L71.77 324.88 L72.56 325.07 L73.35 325.27 L74.14 325.47 L74.93 325.68 L75.72 325.89 L76.52 326.10 L77.31 326.32 L78.10 326.54 L78.89 326.77 L79.68 327.00 L80.47 327.24 L81.27 327.48 L82.06 327.73 L82.85 327.98 L83.64 328.24 L84.43 328.50 L85.22 328.77 L86.02 329.04 L86.81 329.32 L87.60 329.61 L88.39 329.90 L89.18 330.19 L89.97 330.49 L90.77 330.80 L91.56 331.11 L92.35 331.43 L93.14 331.76 L93.93 332.09 L94.72 332.43 L95.52 332.78 L96.31 333.13 L97.10 333.49 L97.89 333.85 L98.68 334.22 L99.47 334.60 L100.26 334.99 L101.06 335.38 L101.85 335.79 L102.64 336.19 L103.43 336.61 L104.22 337.04 L105.01 337.47 L105.81 337.91 L106.60 338.36 L107.39 338.82 L108.18 339.29 L108.97 339.76 L109.76 340.24 L110.56 340.74 L111.35 341.24 L112.14 341.75 L112.93 342.27 L113.72 342.81 L114.51 343.35 L115.31 343.90 L116.10 344.46 L116.89 345.03 L117.68 345.61 L118.47 346.20 L119.26 346.81 L120.06 347.42 L120.85 348.05 L121.64 348.69 L122.43 349.34 L123.22 350.00 L124.01 350.67 L124.81 351.36 L125.60 352.05 L126.39 352.77 L127.18 353.49 L127.97 354.23 L128.76 354.98 L129.56 355.74 L130.35 356.52 L131.14 357.31 L131.93 358.11 L132.72 358.93 L133.51 359.77 L134.31 360.62 L135.10 361.48 L135.89 362.36 L136.68 363.26 L137.47 364.17 L138.26 365.09 L139.06 366.03 L139.85 366.99 L140.64 367.96 L141.43 368.95 L142.22 369.96 L143.01 370.98 L143.81 372.02 L144.60 373.07 L145.39 374.14 L146.18 375.23 L146.97 376.32 L147.76 377.44 L148.55 378.57 L149.35 379.71 L150.14 380.86 L150.93 382.03 L151.72 383.20 L152.51 384.38 L153.30 385.58 L154.10 386.77 L154.89 387.97 L155.68 389.17 L156.47 390.37 L157.26 391.56 L158.05 392.74 L158.85 393.91 L159.64 395.06 L160.43 396.19 L161.22 397.28 L162.01 398.35 L162.80 399.37 L163.60 400.34 L164.39 401.27 L165.18 402.12 L165.97 402.91 L166.76 403.63 L167.55 404.26 L168.35 404.81 L169.14 405.26 L169.93 405.61 L170.72 405.86 L171.51 406.01 L172.30 406.05 L173.10 405.99 L173.89 405.83 L174.68 405.57 L175.47 405.22 L176.26 404.77 L177.05 404.24 L177.85 403.63 L178.64 402.96 L179.43 402.21 L180.22 401.42 L181.01 400.57 L181.80 399.67 L182.60 398.74 L183.39 397.78 L184.18 396.80 L184.97 395.79 L185.76 394.77 L186.55 393.74 L187.35 392.70 L188.14 391.65 L188.93 390.60 L189.72 389.56 L190.51 388.51 L191.30 387.48 L192.09 386.45 L192.89 385.42 L193.68 384.41 L194.47 383.41 L195.26 382.42 L196.05 381.44 L196.84 380.48 L197.64 379.53 L198.43 378.59 L199.22 377.66 L200.01 376.75 L200.80 375.86 L201.59 374.97 L202.39 374.10 L203.18 373.25 L203.97 372.41 L204.76 371.58 L205.55 370.77 L206.34 369.97 L207.14 369.19 L207.93 368.41 L208.72 367.65 L209.51 366.91 L210.30 366.17 L211.09 365.45 L211.89 364.74 L212.68 364.05 L213.47 363.36 L214.26 362.69 L215.05 362.02 L215.84 361.37 L216.64 360.73 L217.43 360.10 L218.22 359.48 L219.01 358.87 L219.80 358.27 L220.59 357.68 L221.39 357.10 L222.18 356.53 L222.97 355.97 L223.76 355.41 L224.55 354.87 L225.34 354.33 L226.14 353.81 L226.93 353.29 L227.72 352.78 L228.51 352.27 L229.30 351.78 L230.09 351.29 L230.89 350.81 L231.68 350.33 L232.47 349.87 L233.26 349.41 L234.05 348.95 L234.84 348.51 L235.64 348.07 L236.43 347.63 L237.22 347.21 L238.01 346.79 L238.80 346.37 L239.59 345.96 L240.38 345.56 L241.18 345.16 L241.97 344.77 L242.76 344.38 L243.55 344.00 L244.34 343.62 L245.13 343.25 L245.93 342.88 L246.72 342.52 L247.51 342.16 L248.30 341.81 L249.09 341.46 L249.88 341.12 L250.68 340.78 L251.47 340.44 L252.26 340.11 L253.05 339.79 L253.84 339.47 L254.63 339.15 L255.43 338.83 L256.22 338.52 L257.01 338.21 L257.80 337.91 L258.59 337.61 L259.38 337.32 L260.18 337.02 L260.97 336.73 L261.76 336.45 L262.55 336.17 L263.34 335.89 L264.13 335.61 L264.93 335.34 L265.72 335.07 L266.51 334.80 L267.30 334.54 L268.09 334.28 L268.88 334.02 L269.68 333.77 L270.47 333.51 L271.26 333.26 L272.05 333.02 L272.84 332.77 L273.63 332.53 L274.43 332.29 L275.22 332.06 L276.01 331.82 L276.80 331.59 L277.59 331.36 L278.38 331.13 L279.18 330.91 L279.97 330.69 L280.76 330.47 L281.55 330.25 L282.34 330.03 L283.13 329.82 L283.93 329.61 L284.72 329.40 L285.51 329.19 L286.30 328.98" fill="none" stroke="#b474ec" stroke-width="1.3" stroke-linejoin="round"/>
<path d="M49.60 321.77 L50.39 321.89 L51.18 322.02 L51.97 322.15 L52.77 322.29 L53.56 322.43 L54.35 322.57 L55.14 322.71 L55.93 322.86 L56.72 323.01 L57.52 323.16 L58.31 323.32 L59.10 323.48 L59.89 323.64 L60.68 323.81 L61.47 323.98 L62.27 324.16 L63.06 324.33 L63.85 324.52 L64.64 324.70 L65.43 324.89 L66.22 325.09 L67.02 325.28 L67.81 325.49 L68.60 325.69 L69.39 325.90 L70.18 326.12 L70.97 326.34 L71.77 326.56 L72.56 326.79 L73.35 327.02 L74.14 327.26 L74.93 327.50 L75.72 327.75 L76.52 328.01 L77.31 328.26 L78.10 328.53 L78.89 328.79 L79.68 329.07 L80.47 329.35 L81.27 329.63 L82.06 329.92 L82.85 330.22 L83.64 330.52 L84.43 330.83 L85.22 331.14 L86.02 331.46 L86.81 331.79 L87.60 332.12 L88.39 332.46 L89.18 332.80 L89.97 333.16 L90.77 333.52 L91.56 333.88 L92.35 334.25 L93.14 334.63 L93.93 335.02 L94.72 335.42 L95.52 335.82 L96.31 336.23 L97.10 336.65 L97.89 337.07 L98.68 337.51 L99.47 337.95 L100.26 338.40 L101.06 338.86 L101.85 339.33 L102.64 339.80 L103.43 340.29 L104.22 340.78 L105.01 341.28 L105.81 341.80 L106.60 342.32 L107.39 342.85 L108.18 343.39 L108.97 343.94 L109.76 344.51 L110.56 345.08 L111.35 345.66 L112.14 346.26 L112.93 346.86 L113.72 347.48 L114.51 348.10 L115.31 348.74 L116.10 349.39 L116.89 350.05 L117.68 350.73 L118.47 351.41 L119.26 352.11 L120.06 352.83 L120.85 353.55 L121.64 354.29 L122.43 355.04 L123.22 355.80 L124.01 356.58 L124.81 357.38 L125.60 358.18 L126.39 359.00 L127.18 359.84 L127.97 360.69 L128.76 361.56 L129.56 362.44 L130.35 363.33 L131.14 364.24 L131.93 365.17 L132.72 366.11 L133.51 367.07 L134.31 368.05 L135.10 369.04 L135.89 370.05 L136.68 371.07 L137.47 372.11 L138.26 373.16 L139.06 374.23 L139.85 375.32 L140.64 376.42 L141.43 377.53 L142.22 378.66 L143.01 379.80 L143.81 380.96 L144.60 382.12 L145.39 383.30 L146.18 384.48 L146.97 385.68 L147.76 386.87 L148.55 388.07 L149.35 389.27 L150.14 390.47 L150.93 391.66 L151.72 392.84 L152.51 394.01 L153.30 395.15 L154.10 396.28 L154.89 397.37 L155.68 398.44 L156.47 399.45 L157.26 400.42 L158.05 401.34 L158.85 402.19 L159.64 402.98 L160.43 403.69 L161.22 404.31 L162.01 404.85 L162.80 405.29 L163.60 405.63 L164.39 405.88 L165.18 406.02 L165.97 406.05 L166.76 405.98 L167.55 405.81 L168.35 405.55 L169.14 405.18 L169.93 404.73 L170.72 404.19 L171.51 403.58 L172.30 402.90 L173.10 402.15 L173.89 401.35 L174.68 400.49 L175.47 399.60 L176.26 398.66 L177.05 397.70 L177.85 396.71 L178.64 395.71 L179.43 394.68 L180.22 393.65 L181.01 392.61 L181.80 391.56 L182.60 390.51 L183.39 389.47 L184.18 388.43 L184.97 387.39 L185.76 386.36 L186.55 385.34 L187.35 384.33 L188.14 383.33 L188.93 382.34 L189.72 381.36 L190.51 380.40 L191.30 379.45 L192.09 378.51 L192.89 377.59 L193.68 376.68 L194.47 375.78 L195.26 374.90 L196.05 374.03 L196.84 373.18 L197.64 372.34 L198.43 371.51 L199.22 370.70 L200.01 369.90 L200.80 369.12 L201.59 368.35 L202.39 367.59 L203.18 366.84 L203.97 366.11 L204.76 365.39 L205.55 364.68 L206.34 363.99 L207.14 363.30 L207.93 362.63 L208.72 361.97 L209.51 361.32 L210.30 360.68 L211.09 360.05 L211.89 359.43 L212.68 358.82 L213.47 358.22 L214.26 357.63 L215.05 357.05 L215.84 356.48 L216.64 355.92 L217.43 355.37 L218.22 354.82 L219.01 354.29 L219.80 353.76 L220.59 353.24 L221.39 352.73 L222.18 352.23 L222.97 351.73 L223.76 351.25 L224.55 350.77 L225.34 350.29 L226.14 349.83 L226.93 349.37 L227.72 348.92 L228.51 348.47 L229.30 348.03 L230.09 347.60 L230.89 347.17 L231.68 346.75 L232.47 346.34 L233.26 345.93 L234.05 345.52 L234.84 345.13 L235.64 344.73 L236.43 344.35 L237.22 343.97 L238.01 343.59 L238.80 343.22 L239.59 342.85 L240.38 342.49 L241.18 342.13 L241.97 341.78 L242.76 341.43 L243.55 341.09 L244.34 340.75 L245.13 340.42 L245.93 340.09 L246.72 339.76 L247.51 339.44 L248.30 339.12 L249.09 338.81 L249.88 338.50 L250.68 338.19 L251.47 337.89 L252.26 337.59 L253.05 337.29 L253.84 337.00 L254.63 336.71 L255.43 336.43 L256.22 336.14 L257.01 335.86 L257.80 335.59 L258.59 335.32 L259.38 335.05 L260.18 334.78 L260.97 334.52 L261.76 334.26 L262.55 334.00 L263.34 333.74 L264.13 333.49 L264.93 333.24 L265.72 333.00 L266.51 332.75 L267.30 332.51 L268.09 332.27 L268.88 332.04 L269.68 331.80 L270.47 331.57 L271.26 331.34 L272.05 331.11 L272.84 330.89 L273.63 330.67 L274.43 330.45 L275.22 330.23 L276.01 330.01 L276.80 329.80 L277.59 329.59 L278.38 329.38 L279.18 329.17 L279.97 328.97 L280.76 328.76 L281.55 328.56 L282.34 328.36 L283.13 328.17 L283.93 327.97 L284.72 327.77 L285.51 327.58 L286.30 327.39" fill="none" stroke="#d9a22e" stroke-width="1.3" stroke-linejoin="round"/>
<line x1="410.12" y1="444.90" x2="410.12" y2="441.20" stroke="#000" stroke-width="1"/>
<line x1="504.60" y1="444.90" x2="504.60" y2="441.20" stroke="#000" stroke-width="1"/>
<line x1="599.08" y1="444.90" x2="599.08" y2="441.20" stroke="#000" stroke-width="1"/>
<line x1="386.50" y1="429.07" x2="390.20" y2="429.07" stroke="#000" stroke-width="1"/>
<line x1="386.50" y1="397.42" x2="390.20" y2="397.42" stroke="#000" stroke-width="1"/>
<line x1="386.50" y1="365.77" x2="390.20" y2="365.77" stroke="#000" stroke-width="1"/>
<line x1="386.50" y1="334.12" x2="390.20" y2="334.12" stroke="#000" stroke-width="1"/>
<line x1="386.50" y1="302.48" x2="390.20" y2="302.48" stroke="#000" stroke-width="1"/>
<line x1="386.50" y1="270.83" x2="390.20" y2="270.83" stroke="#000" stroke-width="1"/>
<line x1="386.50" y1="413.25" x2="388.50" y2="413.25" stroke="#000" stroke-width="1"/>
<line x1="386.50" y1="381.60" x2="388.50" y2="381.60" stroke="#000" stroke-width="1"/>
<line x1="386.50" y1="349.95" x2="388.50" y2="349.95" stroke="#000" stroke-width="1"/>
<line x1="386.50" y1="318.30" x2="388.50" y2="318.30" stroke="#000" stroke-width="1"/>
<line x1="386.50" y1="286.65" x2="388.50" y2="286.65" stroke="#000" stroke-width="1"/>
<rect x="386.50" y="255.00" width="236.20" height="189.90" fill="none" stroke="#000" stroke-width="1.6"/>
<text x="410.12" y="456.70" font-family='"Liberation Serif", serif' font-size="8.7" font-weight="bold" text-anchor="middle" fill="#000" >-5</text>
<text x="504.60" y="456.70" font-family='"Liberation Serif", serif' font-size="8.7" font-weight="bold" text-anchor="middle" fill="#000" >5</text>
<text x="599.08" y="456.70" font-family='"Liberation Serif", serif' font-size="8.7" font-weight="bold" text-anchor="middle" fill="#000" >15</text>
<text transform="translate(382.60,431.88) scale(1.08,1)" font-family='"Liberation Serif", serif' font-size="8.9" font-weight="bold" text-anchor="end">0</text>
<text transform="translate(382.60,400.22) scale(1.08,1)" font-family='"Liberation Serif", serif' font-size="8.9" font-weight="bold" text-anchor="end">1</text>
<text transform="translate(382.60,368.57) scale(1.08,1)" font-family='"Liberation Serif", serif' font-size="8.9" font-weight="bold" text-anchor="end">2</text>
<text transform="translate(382.60,336.93) scale(1.08,1)" font-family='"Liberation Serif", serif' font-size="8.9" font-weight="bold" text-anchor="end">3</text>
<text transform="translate(382.60,305.28) scale(1.08,1)" font-family='"Liberation Serif", serif' font-size="8.9" font-weight="bold" text-anchor="end">4</text>
<text transform="translate(382.60,273.63) scale(1.08,1)" font-family='"Liberation Serif", serif' font-size="8.9" font-weight="bold" text-anchor="end">5</text>
<text x="162.40" y="238.30" font-family='"Liberation Serif", serif' font-size="16" font-weight="bold" text-anchor="middle" fill="#000" >Frequency (MHz)</text>
<text x="500.20" y="238.80" font-family='"Liberation Serif", serif' font-size="16" font-weight="bold" text-anchor="middle" fill="#000" >Frequency (MHz)</text>
<text x="162.80" y="483.80" font-family='"Liberation Serif", serif' font-size="16" font-weight="bold" text-anchor="middle" fill="#000" >Frequency (MHz)</text>
<text x="504.00" y="478.60" font-family='"Liberation Serif", serif' font-size="16" font-weight="bold" text-anchor="middle" fill="#000" >Power (dBm)</text>
<text transform="translate(12.80,105.40) rotate(-90)" x="0" y="0" dy="0.35em" font-family='"Liberation Serif", serif' font-size="16.6" font-weight="bold" text-anchor="middle">S21 (dB)</text>
<text transform="translate(349.00,105.00) rotate(-90)" x="0" y="0" dy="0.35em" font-family='"Liberation Serif", serif' font-size="16.6" font-weight="bold" text-anchor="middle">S21 (dB)</text>
<text transform="translate(12.80,349.90) rotate(-90)" x="0" y="0" dy="0.35em" font-family='"Liberation Serif", serif' font-size="16.6" font-weight="bold" text-anchor="middle">S21 (dB)</text>
<text transform="translate(362.60,346.20) rotate(-90)" x="0" y="0" dy="0.35em" font-family='"Liberation Serif", serif' font-size="16.4" font-weight="bold" text-anchor="middle">&#916;S21 (dB)</text>
<text x="0.80" y="14.00" font-family='"Liberation Serif", serif' font-size="19" font-weight="bold" text-anchor="start" fill="#000" >(a)</text>
<text x="337.50" y="14.00" font-family='"Liberation Serif", serif' font-size="19" font-weight="bold" text-anchor="start" fill="#000" >(b)</text>
<text x="0.80" y="259.50" font-family='"Liberation Serif", serif' font-size="19" font-weight="bold" text-anchor="start" fill="#000" >(c)</text>
<text x="337.50" y="259.50" font-family='"Liberation Serif", serif' font-size="19" font-weight="bold" text-anchor="start" fill="#000" >(d)</text>
<line x1="226.20" y1="131.50" x2="245.80" y2="131.50" stroke="#4d4d4d" stroke-width="1.1"/>
<text x="248.30" y="134.10" font-family='"Liberation Sans", sans-serif' font-size="8.1" font-weight="bold" text-anchor="start" fill="#000" >dark</text>
<line x1="226.20" y1="141.50" x2="245.80" y2="141.50" stroke="#f04646" stroke-width="1.1"/>
<text x="248.30" y="144.70" font-family='"Liberation Sans", sans-serif' font-size="8.1" font-weight="bold" text-anchor="start" fill="#000" >300nm</text>
<line x1="226.20" y1="152.50" x2="245.80" y2="152.50" stroke="#2f6fe6" stroke-width="1.1"/>
<text x="248.30" y="155.30" font-family='"Liberation Sans", sans-serif' font-size="8.1" font-weight="bold" text-anchor="start" fill="#000" >400nm</text>
<line x1="226.20" y1="163.50" x2="245.80" y2="163.50" stroke="#3dab6b" stroke-width="1.1"/>
<text x="248.30" y="165.90" font-family='"Liberation Sans", sans-serif' font-size="8.1" font-weight="bold" text-anchor="start" fill="#000" >500nm</text>
<line x1="226.20" y1="173.50" x2="245.80" y2="173.50" stroke="#b474ec" stroke-width="1.1"/>
<text x="248.30" y="176.40" font-family='"Liberation Sans", sans-serif' font-size="8.1" font-weight="bold" text-anchor="start" fill="#000" >600nm</text>
<line x1="226.20" y1="184.50" x2="245.80" y2="184.50" stroke="#d9a22e" stroke-width="1.1"/>
<text x="248.30" y="187.00" font-family='"Liberation Sans", sans-serif' font-size="8.1" font-weight="bold" text-anchor="start" fill="#000" >700nm</text>
<line x1="512.30" y1="26.50" x2="532.30" y2="26.50" stroke="#4d4d4d" stroke-width="1.1"/>
<text x="533.80" y="29.10" font-family='"Liberation Sans", sans-serif' font-size="8.1" font-weight="bold" text-anchor="start" fill="#000" >dark</text>
<line x1="512.30" y1="37.50" x2="532.30" y2="37.50" stroke="#f04646" stroke-width="1.1"/>
<text x="533.80" y="40.20" font-family='"Liberation Sans", sans-serif' font-size="8.1" font-weight="bold" text-anchor="start" fill="#000" >300nm</text>
<line x1="512.30" y1="47.50" x2="532.30" y2="47.50" stroke="#2f6fe6" stroke-width="1.1"/>
<text x="533.80" y="50.60" font-family='"Liberation Sans", sans-serif' font-size="8.1" font-weight="bold" text-anchor="start" fill="#000" >400nm</text>
<line x1="512.30" y1="58.50" x2="532.30" y2="58.50" stroke="#3dab6b" stroke-width="1.1"/>
<text x="533.80" y="61.20" font-family='"Liberation Sans", sans-serif' font-size="8.1" font-weight="bold" text-anchor="start" fill="#000" >500nm</text>
<line x1="512.30" y1="68.50" x2="532.30" y2="68.50" stroke="#b474ec" stroke-width="1.1"/>
<text x="533.80" y="71.70" font-family='"Liberation Sans", sans-serif' font-size="8.1" font-weight="bold" text-anchor="start" fill="#000" >600nm</text>
<line x1="512.30" y1="79.50" x2="532.30" y2="79.50" stroke="#d9a22e" stroke-width="1.1"/>
<text x="533.80" y="82.40" font-family='"Liberation Sans", sans-serif' font-size="8.1" font-weight="bold" text-anchor="start" fill="#000" >700nm</text>
<line x1="175.90" y1="271.50" x2="195.00" y2="271.50" stroke="#4d4d4d" stroke-width="1.1"/>
<text x="197.30" y="274.40" font-family='"Liberation Sans", sans-serif' font-size="8.1" font-weight="bold" text-anchor="start" fill="#000" >dark</text>
<line x1="175.90" y1="282.50" x2="195.00" y2="282.50" stroke="#f04646" stroke-width="1.1"/>
<text x="197.30" y="285.40" font-family='"Liberation Sans", sans-serif' font-size="8.1" font-weight="bold" text-anchor="start" fill="#000" >300nm</text>
<line x1="175.90" y1="293.50" x2="195.00" y2="293.50" stroke="#2f6fe6" stroke-width="1.1"/>
<text x="197.30" y="296.00" font-family='"Liberation Sans", sans-serif' font-size="8.1" font-weight="bold" text-anchor="start" fill="#000" >400nm</text>
<line x1="175.90" y1="303.50" x2="195.00" y2="303.50" stroke="#3dab6b" stroke-width="1.1"/>
<text x="197.30" y="306.30" font-family='"Liberation Sans", sans-serif' font-size="8.1" font-weight="bold" text-anchor="start" fill="#000" >500nm</text>
<line x1="175.90" y1="314.50" x2="195.00" y2="314.50" stroke="#b474ec" stroke-width="1.1"/>
<text x="197.30" y="317.10" font-family='"Liberation Sans", sans-serif' font-size="8.1" font-weight="bold" text-anchor="start" fill="#000" >600nm</text>
<line x1="175.90" y1="324.50" x2="195.00" y2="324.50" stroke="#d9a22e" stroke-width="1.1"/>
<text x="197.30" y="327.60" font-family='"Liberation Sans", sans-serif' font-size="8.1" font-weight="bold" text-anchor="start" fill="#000" >700nm</text>
<path d="M60.90 29.90 L66.10 32.50 L60.90 35.10 Z" fill="#000"/>
<text x="80.80" y="38.20" font-family='"Liberation Sans", sans-serif' font-size="16" font-weight="normal" text-anchor="start" fill="#000" >-5dBm</text>
<path d="M407.40 34.90 L412.60 37.50 L407.40 40.10 Z" fill="#000"/>
<text x="427.70" y="43.20" font-family='"Liberation Sans", sans-serif' font-size="16" font-weight="normal" text-anchor="start" fill="#000" >5dBm</text>
<path d="M70.80 280.00 L76.00 282.60 L70.80 285.20 Z" fill="#000"/>
<text x="92.40" y="287.90" font-family='"Liberation Sans", sans-serif' font-size="16" font-weight="normal" text-anchor="start" fill="#000" >15dBm</text>
<rect x="150.30" y="17.60" width="98.90" height="72.40" fill="#fff" stroke="#6a6a6a" stroke-width="0.8"/>
<line x1="155.93" y1="90.00" x2="155.93" y2="91.50" stroke="#444" stroke-width="0.6"/>
<text x="155.93" y="95.80" font-family='"Liberation Serif", serif' font-size="4.9" font-weight="bold" text-anchor="middle" fill="#111" >300</text>
<line x1="168.45" y1="90.00" x2="168.45" y2="91.50" stroke="#444" stroke-width="0.6"/>
<text x="168.45" y="95.80" font-family='"Liberation Serif", serif' font-size="4.9" font-weight="bold" text-anchor="middle" fill="#111" >400</text>
<line x1="180.97" y1="90.00" x2="180.97" y2="91.50" stroke="#444" stroke-width="0.6"/>
<text x="180.97" y="95.80" font-family='"Liberation Serif", serif' font-size="4.9" font-weight="bold" text-anchor="middle" fill="#111" >500</text>
<line x1="193.49" y1="90.00" x2="193.49" y2="91.50" stroke="#444" stroke-width="0.6"/>
<text x="193.49" y="95.80" font-family='"Liberation Serif", serif' font-size="4.9" font-weight="bold" text-anchor="middle" fill="#111" >600</text>
<line x1="206.01" y1="90.00" x2="206.01" y2="91.50" stroke="#444" stroke-width="0.6"/>
<text x="206.01" y="95.80" font-family='"Liberation Serif", serif' font-size="4.9" font-weight="bold" text-anchor="middle" fill="#111" >700</text>
<line x1="218.53" y1="90.00" x2="218.53" y2="91.50" stroke="#444" stroke-width="0.6"/>
<text x="218.53" y="95.80" font-family='"Liberation Serif", serif' font-size="4.9" font-weight="bold" text-anchor="middle" fill="#111" >800</text>
<line x1="231.05" y1="90.00" x2="231.05" y2="91.50" stroke="#444" stroke-width="0.6"/>
<text x="231.05" y="95.80" font-family='"Liberation Serif", serif' font-size="4.9" font-weight="bold" text-anchor="middle" fill="#111" >900</text>
<line x1="243.57" y1="90.00" x2="243.57" y2="91.50" stroke="#444" stroke-width="0.6"/>
<text x="243.57" y="95.80" font-family='"Liberation Serif", serif' font-size="4.9" font-weight="bold" text-anchor="middle" fill="#111" >1000</text>
<line x1="148.80" y1="90.00" x2="150.30" y2="90.00" stroke="#444" stroke-width="0.6"/>
<text x="148.00" y="91.70" font-family='"Liberation Serif", serif' font-size="4.9" font-weight="bold" text-anchor="end" fill="#111" >0</text>
<line x1="148.80" y1="73.78" x2="150.30" y2="73.78" stroke="#444" stroke-width="0.6"/>
<text x="148.00" y="75.48" font-family='"Liberation Serif", serif' font-size="4.9" font-weight="bold" text-anchor="end" fill="#111" >10</text>
<line x1="148.80" y1="57.57" x2="150.30" y2="57.57" stroke="#444" stroke-width="0.6"/>
<text x="148.00" y="59.27" font-family='"Liberation Serif", serif' font-size="4.9" font-weight="bold" text-anchor="end" fill="#111" >20</text>
<line x1="148.80" y1="41.35" x2="150.30" y2="41.35" stroke="#444" stroke-width="0.6"/>
<text x="148.00" y="43.05" font-family='"Liberation Serif", serif' font-size="4.9" font-weight="bold" text-anchor="end" fill="#111" >30</text>
<line x1="148.80" y1="25.14" x2="150.30" y2="25.14" stroke="#444" stroke-width="0.6"/>
<text x="148.00" y="26.84" font-family='"Liberation Serif", serif' font-size="4.9" font-weight="bold" text-anchor="end" fill="#111" >40</text>
<text x="199.90" y="100.60" font-family='"Liberation Serif", serif' font-size="6.2" font-weight="bold" text-anchor="middle" fill="#111" textLength="42.8" lengthAdjust="spacingAndGlyphs">Wavelength (nm)</text>
<text transform="translate(138.9,50.8) rotate(-90)" x="0" y="0" dy="0.35em" font-family='"Liberation Serif", serif' font-size="6.6" font-weight="bold" text-anchor="middle" fill="#222" textLength="40" lengthAdjust="spacingAndGlyphs">Freq (KHz)</text>
<polyline points="155.93,86.76 168.45,80.27 180.97,70.54 193.49,52.71 206.01,44.60 218.53,36.49 224.79,36.49 231.05,31.63 237.31,31.63 243.57,31.63" fill="none" stroke="#1010f2" stroke-width="2.0" stroke-linejoin="round"/>
<rect x="154.13" y="84.96" width="3.6" height="3.6" rx="0.9" fill="#1010d8"/>
<rect x="166.65" y="78.47" width="3.6" height="3.6" rx="0.9" fill="#1010d8"/>
<rect x="179.17" y="68.74" width="3.6" height="3.6" rx="0.9" fill="#1010d8"/>
<rect x="191.69" y="50.91" width="3.6" height="3.6" rx="0.9" fill="#1010d8"/>
<rect x="204.21" y="42.80" width="3.6" height="3.6" rx="0.9" fill="#1010d8"/>
<rect x="216.73" y="34.69" width="3.6" height="3.6" rx="0.9" fill="#1010d8"/>
<rect x="222.99" y="34.69" width="3.6" height="3.6" rx="0.9" fill="#1010d8"/>
<rect x="229.25" y="29.83" width="3.6" height="3.6" rx="0.9" fill="#1010d8"/>
<rect x="235.51" y="29.83" width="3.6" height="3.6" rx="0.9" fill="#1010d8"/>
<rect x="241.77" y="29.83" width="3.6" height="3.6" rx="0.9" fill="#1010d8"/>
<text x="230.30" y="28.60" font-family='"Liberation Sans", sans-serif' font-size="7.6" font-weight="normal" text-anchor="middle" fill="#4654f2" >36</text>
<path d="M65.9 374 L65.9 435.2 L142.3 435.2" fill="none" stroke="#444" stroke-width="0.9"/>
<line x1="65.90" y1="374.30" x2="67.40" y2="374.30" stroke="#444" stroke-width="0.6"/>
<text x="64.10" y="376.20" font-family='"Liberation Serif", serif' font-size="5.6" font-weight="normal" text-anchor="end" fill="#000" font-style="italic">-5</text>
<line x1="65.90" y1="385.30" x2="67.40" y2="385.30" stroke="#444" stroke-width="0.6"/>
<text x="64.10" y="387.20" font-family='"Liberation Serif", serif' font-size="5.6" font-weight="normal" text-anchor="end" fill="#000" font-style="italic">-10</text>
<line x1="65.90" y1="396.30" x2="67.40" y2="396.30" stroke="#444" stroke-width="0.6"/>
<text x="64.10" y="398.20" font-family='"Liberation Serif", serif' font-size="5.6" font-weight="normal" text-anchor="end" fill="#000" font-style="italic">-15</text>
<line x1="65.90" y1="407.31" x2="67.40" y2="407.31" stroke="#444" stroke-width="0.6"/>
<text x="64.10" y="409.21" font-family='"Liberation Serif", serif' font-size="5.6" font-weight="normal" text-anchor="end" fill="#000" font-style="italic">-20</text>
<line x1="65.90" y1="418.31" x2="67.40" y2="418.31" stroke="#444" stroke-width="0.6"/>
<text x="64.10" y="420.21" font-family='"Liberation Serif", serif' font-size="5.6" font-weight="normal" text-anchor="end" fill="#000" font-style="italic">-25</text>
<line x1="65.90" y1="429.31" x2="67.40" y2="429.31" stroke="#444" stroke-width="0.6"/>
<text x="64.10" y="431.21" font-family='"Liberation Serif", serif' font-size="5.6" font-weight="normal" text-anchor="end" fill="#000" font-style="italic">-30</text>
<line x1="65.90" y1="434.70" x2="65.90" y2="433.20" stroke="#444" stroke-width="0.6"/>
<text x="65.90" y="441.00" font-family='"Liberation Serif", serif' font-size="5.6" font-weight="normal" text-anchor="middle" fill="#000" font-style="italic">457.0</text>
<line x1="84.93" y1="434.70" x2="84.93" y2="433.20" stroke="#444" stroke-width="0.6"/>
<text x="84.93" y="441.00" font-family='"Liberation Serif", serif' font-size="5.6" font-weight="normal" text-anchor="middle" fill="#000" font-style="italic">457.5</text>
<line x1="103.95" y1="434.70" x2="103.95" y2="433.20" stroke="#444" stroke-width="0.6"/>
<text x="103.95" y="441.00" font-family='"Liberation Serif", serif' font-size="5.6" font-weight="normal" text-anchor="middle" fill="#000" font-style="italic">458.0</text>
<line x1="122.97" y1="434.70" x2="122.97" y2="433.20" stroke="#444" stroke-width="0.6"/>
<text x="122.97" y="441.00" font-family='"Liberation Serif", serif' font-size="5.6" font-weight="normal" text-anchor="middle" fill="#000" font-style="italic">458.5</text>
<line x1="142.00" y1="434.70" x2="142.00" y2="433.20" stroke="#444" stroke-width="0.6"/>
<text x="142.00" y="441.00" font-family='"Liberation Serif", serif' font-size="5.6" font-weight="normal" text-anchor="middle" fill="#000" font-style="italic">459.0</text>
<path d="M65.90 396.10 L66.34 396.06 L66.95 395.99 L67.67 395.91 L68.47 395.83 L69.29 395.76 L70.08 395.72 L70.80 395.73 L71.40 395.80 L71.89 395.87 L72.32 395.90 L72.70 395.93 L73.05 396.02 L73.37 396.20 L73.68 396.53 L73.98 397.05 L74.30 397.80 L74.62 398.79 L74.93 399.96 L75.23 401.30 L75.52 402.79 L75.80 404.43 L76.07 406.18 L76.34 408.05 L76.60 410.00 L76.85 412.36 L77.09 415.27 L77.32 418.48 L77.54 421.72 L77.76 424.72 L77.98 427.23 L78.19 428.98 L78.40 429.70 L78.61 429.21 L78.82 427.67 L79.03 425.36 L79.24 422.56 L79.44 419.55 L79.63 416.60 L79.82 413.99 L80.00 412.00 L80.15 410.54 L80.28 409.31 L80.39 408.27 L80.49 407.37 L80.61 406.56 L80.76 405.81 L80.95 405.07 L81.20 404.30 L81.51 403.50 L81.88 402.72 L82.28 401.97 L82.72 401.27 L83.17 400.62 L83.63 400.03 L84.07 399.52 L84.50 399.10 L84.90 398.82 L85.29 398.68 L85.67 398.64 L86.05 398.66 L86.45 398.68 L86.86 398.66 L87.31 398.55 L87.80 398.30 L88.35 397.88 L88.97 397.33 L89.63 396.69 L90.31 396.01 L90.98 395.32 L91.61 394.68 L92.20 394.12 L92.70 393.70 L93.13 393.37 L93.50 393.07 L93.82 392.82 L94.11 392.64 L94.38 392.53 L94.62 392.51 L94.86 392.60 L95.10 392.80 L95.33 393.12 L95.54 393.54 L95.74 394.07 L95.92 394.68 L96.09 395.39 L96.26 396.18 L96.43 397.05 L96.60 398.00 L96.77 399.23 L96.93 400.83 L97.09 402.62 L97.25 404.44 L97.41 406.12 L97.57 407.49 L97.73 408.37 L97.90 408.60 L98.07 408.09 L98.25 406.97 L98.42 405.39 L98.60 403.48 L98.78 401.40 L98.98 399.27 L99.18 397.26 L99.40 395.50 L99.63 393.86 L99.88 392.14 L100.13 390.40 L100.39 388.69 L100.66 387.06 L100.94 385.57 L101.22 384.26 L101.50 383.20 L101.78 382.41 L102.07 381.85 L102.36 381.47 L102.65 381.24 L102.95 381.09 L103.26 380.98 L103.57 380.87 L103.90 380.70 L104.23 380.49 L104.55 380.28 L104.88 380.09 L105.22 379.93 L105.57 379.81 L105.95 379.74 L106.36 379.73 L106.80 379.80 L107.29 379.93 L107.84 380.11 L108.42 380.35 L109.02 380.64 L109.63 380.99 L110.22 381.39 L110.78 381.86 L111.30 382.40 L111.78 382.99 L112.25 383.64 L112.70 384.35 L113.13 385.12 L113.54 385.95 L113.92 386.86 L114.28 387.84 L114.60 388.90 L114.88 390.08 L115.13 391.39 L115.34 392.80 L115.52 394.27 L115.70 395.76 L115.86 397.24 L116.03 398.66 L116.20 400.00 L116.37 401.42 L116.53 403.04 L116.69 404.72 L116.84 406.32 L116.99 407.73 L117.15 408.80 L117.32 409.40 L117.50 409.40 L117.69 408.64 L117.89 407.16 L118.09 405.18 L118.30 402.88 L118.52 400.47 L118.76 398.13 L119.02 396.08 L119.30 394.50 L119.60 393.34 L119.91 392.38 L120.25 391.59 L120.59 390.93 L120.96 390.38 L121.35 389.89 L121.76 389.45 L122.20 389.00 L122.68 388.57 L123.19 388.21 L123.74 387.90 L124.31 387.64 L124.88 387.45 L125.44 387.31 L125.99 387.23 L126.50 387.20 L126.99 387.24 L127.47 387.36 L127.94 387.55 L128.39 387.79 L128.84 388.06 L129.27 388.37 L129.69 388.68 L130.10 389.00 L130.49 389.30 L130.85 389.57 L131.20 389.86 L131.54 390.18 L131.88 390.54 L132.21 390.99 L132.55 391.53 L132.90 392.20 L133.26 393.12 L133.63 394.32 L134.01 395.69 L134.39 397.10 L134.76 398.44 L135.12 399.58 L135.47 400.41 L135.80 400.80 L136.11 400.70 L136.42 400.21 L136.71 399.41 L136.99 398.41 L137.26 397.31 L137.52 396.20 L137.77 395.20 L138.00 394.40 L138.20 393.74 L138.37 393.09 L138.52 392.46 L138.66 391.87 L138.80 391.33 L138.96 390.85 L139.16 390.44 L139.40 390.10 L139.71 389.86 L140.09 389.72 L140.51 389.65 L140.94 389.63 L141.36 389.65 L141.74 389.68 L142.07 389.70 L142.30 389.70" fill="none" stroke="#737a52" stroke-width="2.6" stroke-linejoin="round" stroke-linecap="round"/>
<path d="M65.90 396.10 L66.34 396.06 L66.95 395.99 L67.67 395.91 L68.47 395.83 L69.29 395.76 L70.08 395.72 L70.80 395.73 L71.40 395.80 L71.89 395.87 L72.32 395.90 L72.70 395.93 L73.05 396.02 L73.37 396.20 L73.68 396.53 L73.98 397.05 L74.30 397.80 L74.62 398.79 L74.93 399.96 L75.23 401.30 L75.52 402.79 L75.80 404.43 L76.07 406.18 L76.34 408.05 L76.60 410.00 L76.85 412.36 L77.09 415.27 L77.32 418.48 L77.54 421.72 L77.76 424.72 L77.98 427.23 L78.19 428.98 L78.40 429.70 L78.61 429.21 L78.82 427.67 L79.03 425.36 L79.24 422.56 L79.44 419.55 L79.63 416.60 L79.82 413.99 L80.00 412.00 L80.15 410.54 L80.28 409.31 L80.39 408.27 L80.49 407.37 L80.61 406.56 L80.76 405.81 L80.95 405.07 L81.20 404.30 L81.51 403.50 L81.88 402.72 L82.28 401.97 L82.72 401.27 L83.17 400.62 L83.63 400.03 L84.07 399.52 L84.50 399.10 L84.90 398.82 L85.29 398.68 L85.67 398.64 L86.05 398.66 L86.45 398.68 L86.86 398.66 L87.31 398.55 L87.80 398.30 L88.35 397.88 L88.97 397.33 L89.63 396.69 L90.31 396.01 L90.98 395.32 L91.61 394.68 L92.20 394.12 L92.70 393.70 L93.13 393.37 L93.50 393.07 L93.82 392.82 L94.11 392.64 L94.38 392.53 L94.62 392.51 L94.86 392.60 L95.10 392.80 L95.33 393.12 L95.54 393.54 L95.74 394.07 L95.92 394.68 L96.09 395.39 L96.26 396.18 L96.43 397.05 L96.60 398.00 L96.77 399.23 L96.93 400.83 L97.09 402.62 L97.25 404.44 L97.41 406.12 L97.57 407.49 L97.73 408.37 L97.90 408.60 L98.07 408.09 L98.25 406.97 L98.42 405.39 L98.60 403.48 L98.78 401.40 L98.98 399.27 L99.18 397.26 L99.40 395.50 L99.63 393.86 L99.88 392.14 L100.13 390.40 L100.39 388.69 L100.66 387.06 L100.94 385.57 L101.22 384.26 L101.50 383.20 L101.78 382.41 L102.07 381.85 L102.36 381.47 L102.65 381.24 L102.95 381.09 L103.26 380.98 L103.57 380.87 L103.90 380.70 L104.23 380.49 L104.55 380.28 L104.88 380.09 L105.22 379.93 L105.57 379.81 L105.95 379.74 L106.36 379.73 L106.80 379.80 L107.29 379.93 L107.84 380.11 L108.42 380.35 L109.02 380.64 L109.63 380.99 L110.22 381.39 L110.78 381.86 L111.30 382.40 L111.78 382.99 L112.25 383.64 L112.70 384.35 L113.13 385.12 L113.54 385.95 L113.92 386.86 L114.28 387.84 L114.60 388.90 L114.88 390.08 L115.13 391.39 L115.34 392.80 L115.52 394.27 L115.70 395.76 L115.86 397.24 L116.03 398.66 L116.20 400.00 L116.37 401.42 L116.53 403.04 L116.69 404.72 L116.84 406.32 L116.99 407.73 L117.15 408.80 L117.32 409.40 L117.50 409.40 L117.69 408.64 L117.89 407.16 L118.09 405.18 L118.30 402.88 L118.52 400.47 L118.76 398.13 L119.02 396.08 L119.30 394.50 L119.60 393.34 L119.91 392.38 L120.25 391.59 L120.59 390.93 L120.96 390.38 L121.35 389.89 L121.76 389.45 L122.20 389.00 L122.68 388.57 L123.19 388.21 L123.74 387.90 L124.31 387.64 L124.88 387.45 L125.44 387.31 L125.99 387.23 L126.50 387.20 L126.99 387.24 L127.47 387.36 L127.94 387.55 L128.39 387.79 L128.84 388.06 L129.27 388.37 L129.69 388.68 L130.10 389.00 L130.49 389.30 L130.85 389.57 L131.20 389.86 L131.54 390.18 L131.88 390.54 L132.21 390.99 L132.55 391.53 L132.90 392.20 L133.26 393.12 L133.63 394.32 L134.01 395.69 L134.39 397.10 L134.76 398.44 L135.12 399.58 L135.47 400.41 L135.80 400.80 L136.11 400.70 L136.42 400.21 L136.71 399.41 L136.99 398.41 L137.26 397.31 L137.52 396.20 L137.77 395.20 L138.00 394.40 L138.20 393.74 L138.37 393.09 L138.52 392.46 L138.66 391.87 L138.80 391.33 L138.96 390.85 L139.16 390.44 L139.40 390.10 L139.71 389.86 L140.09 389.72 L140.51 389.65 L140.94 389.63 L141.36 389.65 L141.74 389.68 L142.07 389.70 L142.30 389.70" fill="none" stroke="#6f8660" stroke-width="0.8" stroke-linejoin="round" opacity="0.5"/>
<path d="M410.12 424.33 L412.51 424.38 L414.90 424.43 L417.30 424.47 L419.69 424.52 L422.08 424.56 L424.47 424.60 L426.86 424.64 L429.26 424.67 L431.65 424.69 L434.04 424.71 L436.43 424.72 L438.82 424.72 L441.21 424.72 L443.61 424.70 L446.00 424.68 L448.39 424.64 L450.78 424.59 L453.17 424.53 L455.57 424.46 L457.96 424.37 L460.35 424.27 L462.74 424.16 L465.13 424.03 L467.53 423.88 L469.92 423.71 L472.31 423.53 L474.70 423.33 L477.09 423.11 L479.49 422.87 L481.88 422.61 L484.27 422.32 L486.66 422.02 L489.05 421.69 L491.44 421.34 L493.84 420.96 L496.23 420.56 L498.62 420.13 L501.01 419.68 L503.40 419.20 L505.80 418.69 L508.19 418.15 L510.58 417.59 L512.97 417.00 L515.36 416.38 L517.76 415.74 L520.15 415.07 L522.54 414.39 L524.93 413.67 L527.32 412.94 L529.71 412.18 L532.11 411.41 L534.50 410.61 L536.89 409.79 L539.28 408.96 L541.67 408.11 L544.07 407.24 L546.46 406.35 L548.85 405.45 L551.24 404.53 L553.63 403.60 L556.03 402.65 L558.42 401.70 L560.81 400.73 L563.20 399.74 L565.59 398.75 L567.99 397.75 L570.38 396.74 L572.77 395.72 L575.16 394.69 L577.55 393.65 L579.94 392.61 L582.34 391.56 L584.73 390.51 L587.12 389.46 L589.51 388.40 L591.90 387.33 L594.30 386.27 L596.69 385.20 L599.08 384.13" fill="none" stroke="#3a9d3a" stroke-width="1.6"/>
<path d="M410.12 417.05 L412.51 416.28 L414.90 415.51 L417.30 414.75 L419.69 413.98 L422.08 413.21 L424.47 412.43 L426.86 411.66 L429.26 410.89 L431.65 410.11 L434.04 409.33 L436.43 408.55 L438.82 407.76 L441.21 406.97 L443.61 406.18 L446.00 405.38 L448.39 404.58 L450.78 403.77 L453.17 402.96 L455.57 402.15 L457.96 401.32 L460.35 400.50 L462.74 399.66 L465.13 398.82 L467.53 397.98 L469.92 397.13 L472.31 396.27 L474.70 395.40 L477.09 394.52 L479.49 393.64 L481.88 392.75 L484.27 391.85 L486.66 390.94 L489.05 390.02 L491.44 389.10 L493.84 388.16 L496.23 387.21 L498.62 386.25 L501.01 385.29 L503.40 384.31 L505.80 383.32 L508.19 382.32 L510.58 381.31 L512.97 380.29 L515.36 379.25 L517.76 378.21 L520.15 377.16 L522.54 376.10 L524.93 375.03 L527.32 373.95 L529.71 372.86 L532.11 371.76 L534.50 370.66 L536.89 369.55 L539.28 368.43 L541.67 367.30 L544.07 366.17 L546.46 365.03 L548.85 363.88 L551.24 362.73 L553.63 361.57 L556.03 360.41 L558.42 359.24 L560.81 358.07 L563.20 356.89 L565.59 355.71 L567.99 354.52 L570.38 353.33 L572.77 352.14 L575.16 350.94 L577.55 349.75 L579.94 348.54 L582.34 347.34 L584.73 346.13 L587.12 344.93 L589.51 343.72 L591.90 342.51 L594.30 341.30 L596.69 340.08 L599.08 338.87" fill="none" stroke="#f0883c" stroke-width="1.6"/>
<path d="M410.12 405.65 L412.51 404.93 L414.90 404.21 L417.30 403.49 L419.69 402.76 L422.08 402.03 L424.47 401.30 L426.86 400.57 L429.26 399.83 L431.65 399.09 L434.04 398.33 L436.43 397.58 L438.82 396.81 L441.21 396.04 L443.61 395.26 L446.00 394.47 L448.39 393.67 L450.78 392.86 L453.17 392.04 L455.57 391.21 L457.96 390.37 L460.35 389.51 L462.74 388.64 L465.13 387.76 L467.53 386.86 L469.92 385.94 L472.31 385.01 L474.70 384.06 L477.09 383.09 L479.49 382.11 L481.88 381.11 L484.27 380.09 L486.66 379.04 L489.05 377.98 L491.44 376.90 L493.84 375.79 L496.23 374.66 L498.62 373.51 L501.01 372.33 L503.40 371.13 L505.80 369.91 L508.19 368.66 L510.58 367.38 L512.97 366.08 L515.36 364.76 L517.76 363.41 L520.15 362.04 L522.54 360.65 L524.93 359.24 L527.32 357.82 L529.71 356.37 L532.11 354.90 L534.50 353.41 L536.89 351.91 L539.28 350.39 L541.67 348.85 L544.07 347.30 L546.46 345.73 L548.85 344.15 L551.24 342.56 L553.63 340.95 L556.03 339.33 L558.42 337.70 L560.81 336.06 L563.20 334.40 L565.59 332.74 L567.99 331.07 L570.38 329.39 L572.77 327.70 L575.16 326.00 L577.55 324.30 L579.94 322.60 L582.34 320.88 L584.73 319.17 L587.12 317.45 L589.51 315.72 L591.90 313.99 L594.30 312.27 L596.69 310.54 L599.08 308.80" fill="none" stroke="#5e93d8" stroke-width="1.6"/>
<path d="M410.12 390.15 L412.51 390.16 L414.90 390.16 L417.30 390.17 L419.69 390.17 L422.08 390.16 L424.47 390.14 L426.86 390.12 L429.26 390.08 L431.65 390.03 L434.04 389.96 L436.43 389.87 L438.82 389.77 L441.21 389.64 L443.61 389.49 L446.00 389.32 L448.39 389.12 L450.78 388.90 L453.17 388.64 L455.57 388.35 L457.96 388.03 L460.35 387.68 L462.74 387.29 L465.13 386.86 L467.53 386.39 L469.92 385.88 L472.31 385.33 L474.70 384.73 L477.09 384.08 L479.49 383.39 L481.88 382.65 L484.27 381.85 L486.66 381.00 L489.05 380.09 L491.44 379.13 L493.84 378.11 L496.23 377.03 L498.62 375.88 L501.01 374.68 L503.40 373.40 L505.80 372.06 L508.19 370.65 L510.58 369.17 L512.97 367.63 L515.36 366.03 L517.76 364.37 L520.15 362.65 L522.54 360.87 L524.93 359.03 L527.32 357.15 L529.71 355.21 L532.11 353.22 L534.50 351.18 L536.89 349.09 L539.28 346.96 L541.67 344.79 L544.07 342.57 L546.46 340.32 L548.85 338.02 L551.24 335.69 L553.63 333.33 L556.03 330.93 L558.42 328.50 L560.81 326.04 L563.20 323.56 L565.59 321.04 L567.99 318.51 L570.38 315.95 L572.77 313.37 L575.16 310.77 L577.55 308.16 L579.94 305.52 L582.34 302.88 L584.73 300.22 L587.12 297.55 L589.51 294.88 L591.90 292.19 L594.30 289.50 L596.69 286.81 L599.08 284.12" fill="none" stroke="#ea5058" stroke-width="1.6"/>
<path d="M410.12 382.87 L412.51 382.98 L414.90 383.10 L417.30 383.21 L419.69 383.31 L422.08 383.40 L424.47 383.49 L426.86 383.56 L429.26 383.62 L431.65 383.67 L434.04 383.69 L436.43 383.70 L438.82 383.68 L441.21 383.64 L443.61 383.57 L446.00 383.47 L448.39 383.35 L450.78 383.19 L453.17 383.00 L455.57 382.77 L457.96 382.50 L460.35 382.19 L462.74 381.84 L465.13 381.45 L467.53 381.00 L469.92 380.51 L472.31 379.97 L474.70 379.38 L477.09 378.74 L479.49 378.03 L481.88 377.27 L484.27 376.45 L486.66 375.56 L489.05 374.61 L491.44 373.60 L493.84 372.51 L496.23 371.35 L498.62 370.13 L501.01 368.82 L503.40 367.44 L505.80 365.99 L508.19 364.45 L510.58 362.83 L512.97 361.15 L515.36 359.39 L517.76 357.55 L520.15 355.65 L522.54 353.69 L524.93 351.66 L527.32 349.56 L529.71 347.41 L532.11 345.19 L534.50 342.92 L536.89 340.60 L539.28 338.22 L541.67 335.80 L544.07 333.32 L546.46 330.80 L548.85 328.23 L551.24 325.62 L553.63 322.98 L556.03 320.29 L558.42 317.56 L560.81 314.81 L563.20 312.02 L565.59 309.20 L567.99 306.35 L570.38 303.47 L572.77 300.57 L575.16 297.65 L577.55 294.71 L579.94 291.75 L582.34 288.77 L584.73 285.78 L587.12 282.78 L589.51 279.77 L591.90 276.75 L594.30 273.72 L596.69 270.69 L599.08 267.66" fill="none" stroke="#6e4fb0" stroke-width="1.6"/>
<rect x="406.82" y="421.03" width="6.60" height="6.60" fill="#3a9d3a"/>
<rect x="501.30" y="415.65" width="6.60" height="6.60" fill="#3a9d3a"/>
<rect x="595.78" y="380.83" width="6.60" height="6.60" fill="#3a9d3a"/>
<path d="M410.12 412.85 L414.11 419.65 L406.13 419.65 Z" fill="#f0883c"/>
<path d="M504.60 379.62 L508.59 386.42 L500.61 386.42 Z" fill="#f0883c"/>
<path d="M599.08 334.67 L603.07 341.48 L595.09 341.48 Z" fill="#f0883c"/>
<polygon points="410.12,401.05 411.26,404.09 414.49,404.23 411.96,406.25 412.82,409.38 410.12,407.59 407.42,409.38 408.28,406.25 405.75,404.23 408.98,404.09" fill="#5e93d8"/>
<polygon points="504.60,365.92 505.74,368.96 508.97,369.10 506.44,371.12 507.30,374.24 504.60,372.45 501.90,374.24 502.76,371.12 500.23,369.10 503.46,368.96" fill="#5e93d8"/>
<polygon points="599.08,304.20 600.22,307.24 603.45,307.38 600.92,309.40 601.78,312.53 599.08,310.74 596.38,312.53 597.24,309.40 594.71,307.38 597.94,307.24" fill="#5e93d8"/>
<path d="M410.12 385.85 L414.42 390.15 L410.12 394.45 L405.82 390.15 Z" fill="#ea5058"/>
<path d="M504.60 368.44 L508.90 372.74 L504.60 377.04 L500.30 372.74 Z" fill="#ea5058"/>
<path d="M599.08 279.82 L603.38 284.12 L599.08 288.42 L594.78 284.12 Z" fill="#ea5058"/>
<circle cx="410.12" cy="382.87" r="3.80" fill="#6e4fb0"/>
<circle cx="504.60" cy="366.72" r="3.80" fill="#6e4fb0"/>
<circle cx="599.08" cy="267.66" r="3.80" fill="#6e4fb0"/>
<line x1="434.1" y1="296.80" x2="457.7" y2="296.80" stroke="#3a9d3a" stroke-width="1.4"/>
<rect x="442.60" y="293.50" width="6.60" height="6.60" fill="#3a9d3a"/>
<text x="459.60" y="300.10" font-family='"Liberation Serif", serif' font-size="9.5" font-weight="bold" text-anchor="start" fill="#000" >300nm</text>
<line x1="434.1" y1="309.30" x2="457.7" y2="309.30" stroke="#f0883c" stroke-width="1.4"/>
<path d="M445.90 305.10 L449.89 311.90 L441.91 311.90 Z" fill="#f0883c"/>
<text x="459.60" y="312.60" font-family='"Liberation Serif", serif' font-size="9.5" font-weight="bold" text-anchor="start" fill="#000" >400nm</text>
<line x1="434.1" y1="321.90" x2="457.7" y2="321.90" stroke="#5e93d8" stroke-width="1.4"/>
<polygon points="445.90,317.30 447.04,320.34 450.27,320.48 447.74,322.50 448.60,325.62 445.90,323.83 443.20,325.62 444.06,322.50 441.53,320.48 444.76,320.34" fill="#5e93d8"/>
<text x="459.60" y="325.20" font-family='"Liberation Serif", serif' font-size="9.5" font-weight="bold" text-anchor="start" fill="#000" >500nm</text>
<line x1="434.1" y1="334.10" x2="457.7" y2="334.10" stroke="#ea5058" stroke-width="1.4"/>
<path d="M445.90 329.80 L450.20 334.10 L445.90 338.40 L441.60 334.10 Z" fill="#ea5058"/>
<text x="459.60" y="337.40" font-family='"Liberation Serif", serif' font-size="9.5" font-weight="bold" text-anchor="start" fill="#000" >600nm</text>
<line x1="434.1" y1="346.20" x2="457.7" y2="346.20" stroke="#6e4fb0" stroke-width="1.4"/>
<circle cx="445.90" cy="346.20" r="3.80" fill="#6e4fb0"/>
<text x="459.60" y="349.50" font-family='"Liberation Serif", serif' font-size="9.5" font-weight="bold" text-anchor="start" fill="#000" >700nm</text>
</svg></body></html>
